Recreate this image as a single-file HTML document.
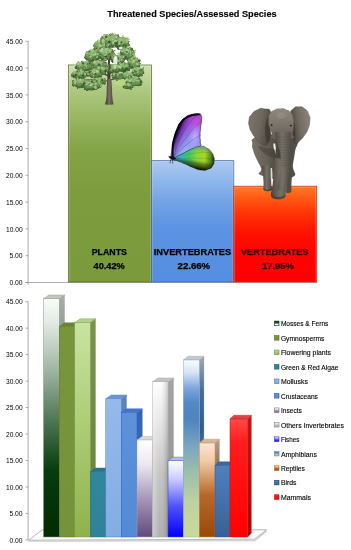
<!DOCTYPE html>
<html><head><meta charset="utf-8"><title>Threatened Species/Assessed Species</title>
<style>html,body{margin:0;padding:0;background:#fff;}body{width:351px;height:550px;overflow:hidden;font-family:"Liberation Sans",sans-serif;}</style>
</head><body>
<svg width="351" height="550" viewBox="0 0 351 550" style="display:block"><defs>
<linearGradient id="gPl" x1="0" y1="0" x2="0" y2="1">
 <stop offset="0" stop-color="#cfe1b2"/><stop offset="0.03" stop-color="#c3d9a0"/><stop offset="0.1" stop-color="#b0cb86"/><stop offset="0.25" stop-color="#96b55e"/><stop offset="0.4" stop-color="#83a346"/><stop offset="0.6" stop-color="#7c9c3e"/><stop offset="1" stop-color="#7a9a3c"/>
</linearGradient>
<linearGradient id="gIn" x1="0" y1="0" x2="0" y2="1">
 <stop offset="0" stop-color="#aecaf1"/><stop offset="0.15" stop-color="#92b8ec"/><stop offset="0.35" stop-color="#71a2e6"/><stop offset="0.55" stop-color="#5c93e2"/><stop offset="1" stop-color="#558de0"/>
</linearGradient>
<linearGradient id="gVe" x1="0" y1="0" x2="0" y2="1">
 <stop offset="0" stop-color="#ff7c2c"/><stop offset="0.12" stop-color="#ff5a14"/><stop offset="0.3" stop-color="#ff3006"/><stop offset="0.5" stop-color="#ff1000"/><stop offset="0.7" stop-color="#ff0300"/><stop offset="1" stop-color="#ff0000"/>
</linearGradient>

<filter id="rough" x="-10%" y="-10%" width="120%" height="120%">
 <feTurbulence type="fractalNoise" baseFrequency="0.35" numOctaves="2" seed="4" result="n"/>
 <feDisplacementMap in="SourceGraphic" in2="n" scale="3.2" xChannelSelector="R" yChannelSelector="G"/>
</filter>
<linearGradient id="trk" x1="0" y1="0" x2="1" y2="0"><stop offset="0" stop-color="#3c342c"/><stop offset="0.5" stop-color="#7a7064"/><stop offset="1" stop-color="#4a4238"/></linearGradient>

<linearGradient id="bu" gradientUnits="userSpaceOnUse" x1="198" y1="113" x2="186" y2="158">
 <stop offset="0" stop-color="#ac3cc4"/><stop offset="0.18" stop-color="#bc50d8"/><stop offset="0.4" stop-color="#9e6ee8"/><stop offset="0.62" stop-color="#9290f0"/><stop offset="0.8" stop-color="#98a6f4"/><stop offset="1" stop-color="#90c0f0"/>
</linearGradient>
<radialGradient id="buh"><stop offset="0" stop-color="#e4e4ff" stop-opacity="0.5"/><stop offset="0.6" stop-color="#d8d8ff" stop-opacity="0.2"/><stop offset="1" stop-color="#d8d8ff" stop-opacity="0"/></radialGradient>
<linearGradient id="bu2" gradientUnits="userSpaceOnUse" x1="175" y1="134" x2="192" y2="141">
 <stop offset="0" stop-color="#1a0a2c"/><stop offset="0.12" stop-color="#2c1048"/><stop offset="0.22" stop-color="#5a1c8c" stop-opacity="0.8"/><stop offset="0.5" stop-color="#8030c0" stop-opacity="0.3"/><stop offset="0.8" stop-color="#8030c0" stop-opacity="0"/>
</linearGradient>
<linearGradient id="bl" gradientUnits="userSpaceOnUse" x1="173" y1="156" x2="214.5" y2="160">
 <stop offset="0" stop-color="#5c94dc"/><stop offset="0.1" stop-color="#4ca8d0"/><stop offset="0.22" stop-color="#38bcb0"/><stop offset="0.38" stop-color="#44c466"/><stop offset="0.58" stop-color="#8ed634"/><stop offset="0.76" stop-color="#a6d628"/><stop offset="0.9" stop-color="#5c8c1c"/><stop offset="1" stop-color="#1c3010"/>
</linearGradient>
<linearGradient id="bl2" gradientUnits="userSpaceOnUse" x1="197" y1="146" x2="193" y2="169.5">
 <stop offset="0" stop-color="#5078c0" stop-opacity="0.55"/><stop offset="0.25" stop-color="#5078c0" stop-opacity="0"/><stop offset="0.58" stop-color="#000" stop-opacity="0"/><stop offset="0.8" stop-color="#142008" stop-opacity="0.62"/><stop offset="0.92" stop-color="#0a1006" stop-opacity="0.92"/><stop offset="1" stop-color="#060804" stop-opacity="0.97"/>
</linearGradient>

<linearGradient id="eEarL" x1="0" y1="0" x2="1" y2="0.3"><stop offset="0" stop-color="#7d776e"/><stop offset="0.6" stop-color="#6c665d"/><stop offset="1" stop-color="#4e4941"/></linearGradient>
<linearGradient id="eEarR" x1="1" y1="0" x2="0" y2="0.3"><stop offset="0" stop-color="#8e887e"/><stop offset="0.6" stop-color="#726c63"/><stop offset="1" stop-color="#4c473f"/></linearGradient>
<linearGradient id="eHead" x1="0" y1="0" x2="0" y2="1"><stop offset="0" stop-color="#8e887e"/><stop offset="0.5" stop-color="#7a746a"/><stop offset="1" stop-color="#5f5a52"/></linearGradient>
<linearGradient id="eBody" x1="0" y1="0" x2="1" y2="0"><stop offset="0" stop-color="#777168"/><stop offset="0.35" stop-color="#655f56"/><stop offset="0.6" stop-color="#47423b"/><stop offset="1" stop-color="#57524a"/></linearGradient>
<linearGradient id="eLeg" x1="0" y1="0" x2="1" y2="0"><stop offset="0" stop-color="#4b463f"/><stop offset="0.45" stop-color="#777167"/><stop offset="1" stop-color="#4d4841"/></linearGradient>
<linearGradient id="eTrunk" x1="0" y1="0" x2="1" y2="0"><stop offset="0" stop-color="#4f4a43"/><stop offset="0.45" stop-color="#777167"/><stop offset="1" stop-color="#524d46"/></linearGradient>
<linearGradient id="f0" x1="0" y1="0" x2="0" y2="1"><stop offset="0" stop-color="#fafcfa"/><stop offset="0.1" stop-color="#e3eae3"/><stop offset="0.3" stop-color="#a0b5a2"/><stop offset="0.5" stop-color="#527a58"/><stop offset="0.72" stop-color="#073c0c"/><stop offset="1" stop-color="#002c00"/></linearGradient><linearGradient id="s0" x1="0" y1="0" x2="0" y2="1"><stop offset="0" stop-color="#a9aea9"/><stop offset="0.4" stop-color="#6b7d6c"/><stop offset="0.8" stop-color="#0a300d"/><stop offset="1" stop-color="#002400"/></linearGradient><linearGradient id="f1" x1="0" y1="0" x2="0" y2="1"><stop offset="0" stop-color="#78953c"/><stop offset="1" stop-color="#76923a"/></linearGradient><linearGradient id="s1" x1="0" y1="0" x2="0" y2="1"><stop offset="0" stop-color="#5d7530"/><stop offset="1" stop-color="#5d7530"/></linearGradient><linearGradient id="f2" x1="0" y1="0" x2="0" y2="1"><stop offset="0" stop-color="#c9e3a2"/><stop offset="0.5" stop-color="#abcc74"/><stop offset="1" stop-color="#8fb24c"/></linearGradient><linearGradient id="s2" x1="0" y1="0" x2="0" y2="1"><stop offset="0" stop-color="#7a9450"/><stop offset="1" stop-color="#66803a"/></linearGradient><linearGradient id="f3" x1="0" y1="0" x2="0" y2="1"><stop offset="0" stop-color="#32869c"/><stop offset="1" stop-color="#2f8298"/></linearGradient><linearGradient id="s3" x1="0" y1="0" x2="0" y2="1"><stop offset="0" stop-color="#256a7c"/><stop offset="1" stop-color="#256a7c"/></linearGradient><linearGradient id="f4" x1="0" y1="0" x2="0" y2="1"><stop offset="0" stop-color="#94baea"/><stop offset="1" stop-color="#82aee4"/></linearGradient><linearGradient id="s4" x1="0" y1="0" x2="0" y2="1"><stop offset="0" stop-color="#5d82b6"/><stop offset="1" stop-color="#587cb0"/></linearGradient><linearGradient id="f5" x1="0" y1="0" x2="0" y2="1"><stop offset="0" stop-color="#5b92da"/><stop offset="1" stop-color="#528ad6"/></linearGradient><linearGradient id="s5" x1="0" y1="0" x2="0" y2="1"><stop offset="0" stop-color="#3866ae"/><stop offset="1" stop-color="#3866ae"/></linearGradient><linearGradient id="f6" x1="0" y1="0" x2="0" y2="1"><stop offset="0" stop-color="#ffffff"/><stop offset="0.25" stop-color="#ece8f0"/><stop offset="0.6" stop-color="#a898b8"/><stop offset="1" stop-color="#604a7c"/></linearGradient><linearGradient id="s6" x1="0" y1="0" x2="0" y2="1"><stop offset="0" stop-color="#b0b0b0"/><stop offset="1" stop-color="#54446a"/></linearGradient><linearGradient id="f7" x1="0" y1="0" x2="0" y2="1"><stop offset="0" stop-color="#ffffff"/><stop offset="0.2" stop-color="#ececec"/><stop offset="0.6" stop-color="#c4c4c4"/><stop offset="1" stop-color="#b0b0b0"/></linearGradient><linearGradient id="s7" x1="0" y1="0" x2="0" y2="1"><stop offset="0" stop-color="#a4a4a4"/><stop offset="1" stop-color="#8c8c8c"/></linearGradient><linearGradient id="f8" x1="0" y1="0" x2="0" y2="1"><stop offset="0" stop-color="#ffffff"/><stop offset="0.25" stop-color="#c8c8ff"/><stop offset="0.6" stop-color="#5050ff"/><stop offset="1" stop-color="#0000f8"/></linearGradient><linearGradient id="s8" x1="0" y1="0" x2="0" y2="1"><stop offset="0" stop-color="#9a9ab0"/><stop offset="1" stop-color="#0000b0"/></linearGradient><linearGradient id="f9" x1="0" y1="0" x2="0" y2="1"><stop offset="0" stop-color="#fbfdff"/><stop offset="0.07" stop-color="#d6e4f6"/><stop offset="0.16" stop-color="#7ca6dc"/><stop offset="0.24" stop-color="#5488c6"/><stop offset="0.34" stop-color="#5084be"/><stop offset="0.48" stop-color="#78a4c0"/><stop offset="0.62" stop-color="#9abcac"/><stop offset="0.8" stop-color="#bcd2a0"/><stop offset="1" stop-color="#c8da9c"/></linearGradient><linearGradient id="s9" x1="0" y1="0" x2="0" y2="1"><stop offset="0" stop-color="#a8a8a8"/><stop offset="0.2" stop-color="#46689a"/><stop offset="0.4" stop-color="#345c8c"/><stop offset="0.6" stop-color="#5c7c84"/><stop offset="1" stop-color="#8c9c6c"/></linearGradient><linearGradient id="f10" x1="0" y1="0" x2="0" y2="1"><stop offset="0" stop-color="#fde6d2"/><stop offset="0.2" stop-color="#f0c8a4"/><stop offset="0.55" stop-color="#b8682c"/><stop offset="1" stop-color="#984807"/></linearGradient><linearGradient id="s10" x1="0" y1="0" x2="0" y2="1"><stop offset="0" stop-color="#a8a4a0"/><stop offset="0.5" stop-color="#7c4c24"/><stop offset="1" stop-color="#6c3404"/></linearGradient><linearGradient id="f11" x1="0" y1="0" x2="0" y2="1"><stop offset="0" stop-color="#4f80bc"/><stop offset="0.5" stop-color="#4272ac"/><stop offset="1" stop-color="#376092"/></linearGradient><linearGradient id="s11" x1="0" y1="0" x2="0" y2="1"><stop offset="0" stop-color="#2f5484"/><stop offset="1" stop-color="#284a74"/></linearGradient><linearGradient id="f12" x1="0" y1="0" x2="0" y2="1"><stop offset="0" stop-color="#ff4848"/><stop offset="0.2" stop-color="#ff1c1c"/><stop offset="1" stop-color="#ff0000"/></linearGradient><linearGradient id="s12" x1="0" y1="0" x2="0" y2="1"><stop offset="0" stop-color="#c01818"/><stop offset="1" stop-color="#a80808"/></linearGradient><linearGradient id="hz" x1="0" y1="0" x2="1" y2="0"><stop offset="0" stop-color="#fff" stop-opacity="0.35"/><stop offset="0.45" stop-color="#fff" stop-opacity="0"/><stop offset="1" stop-color="#000" stop-opacity="0.22"/></linearGradient><linearGradient id="f0r" x1="0" y1="0" x2="0" y2="1"><stop offset="0" stop-color="#0a3a0e"/><stop offset="0.45" stop-color="#1c4c22"/><stop offset="0.6" stop-color="#e8eee8"/><stop offset="1" stop-color="#ffffff"/></linearGradient></defs><g stroke="#909090" stroke-width="0.75" fill="none">
<path d="M28.1 41.000000000000014V285.0"/>
<path d="M25.6 282.5H317.2"/>
<path d="M25.6 282.50H28.1"/>
<path d="M25.6 255.70H28.1"/>
<path d="M25.6 228.90H28.1"/>
<path d="M25.6 202.10H28.1"/>
<path d="M25.6 175.30H28.1"/>
<path d="M25.6 148.50H28.1"/>
<path d="M25.6 121.70H28.1"/>
<path d="M25.6 94.90H28.1"/>
<path d="M25.6 68.10H28.1"/>
<path d="M25.6 41.30H28.1"/>
</g>
<text x="22.6" y="285.10" text-anchor="end" font-size="6.5" textLength="13.2" lengthAdjust="spacingAndGlyphs" fill="#000" font-family="Liberation Sans, sans-serif">0.00</text>
<text x="22.6" y="258.30" text-anchor="end" font-size="6.5" textLength="13.2" lengthAdjust="spacingAndGlyphs" fill="#000" font-family="Liberation Sans, sans-serif">5.00</text>
<text x="22.6" y="231.50" text-anchor="end" font-size="6.5" textLength="16.6" lengthAdjust="spacingAndGlyphs" fill="#000" font-family="Liberation Sans, sans-serif">10.00</text>
<text x="22.6" y="204.70" text-anchor="end" font-size="6.5" textLength="16.6" lengthAdjust="spacingAndGlyphs" fill="#000" font-family="Liberation Sans, sans-serif">15.00</text>
<text x="22.6" y="177.90" text-anchor="end" font-size="6.5" textLength="16.6" lengthAdjust="spacingAndGlyphs" fill="#000" font-family="Liberation Sans, sans-serif">20.00</text>
<text x="22.6" y="151.10" text-anchor="end" font-size="6.5" textLength="16.6" lengthAdjust="spacingAndGlyphs" fill="#000" font-family="Liberation Sans, sans-serif">25.00</text>
<text x="22.6" y="124.30" text-anchor="end" font-size="6.5" textLength="16.6" lengthAdjust="spacingAndGlyphs" fill="#000" font-family="Liberation Sans, sans-serif">30.00</text>
<text x="22.6" y="97.50" text-anchor="end" font-size="6.5" textLength="16.6" lengthAdjust="spacingAndGlyphs" fill="#000" font-family="Liberation Sans, sans-serif">35.00</text>
<text x="22.6" y="70.70" text-anchor="end" font-size="6.5" textLength="16.6" lengthAdjust="spacingAndGlyphs" fill="#000" font-family="Liberation Sans, sans-serif">40.00</text>
<text x="22.6" y="43.90" text-anchor="end" font-size="6.5" textLength="16.6" lengthAdjust="spacingAndGlyphs" fill="#000" font-family="Liberation Sans, sans-serif">45.00</text>
<rect x="68.4" y="65.00" width="83.10" height="217.00" fill="url(#gPl)" stroke="#506a2a" stroke-width="0.75"/>
<path d="M69.2 282.0 V65.90 H150.70 V282" fill="none" stroke="#fff" stroke-opacity="0.35" stroke-width="0.6"/>
<rect x="151.5" y="160.70" width="82.30" height="121.30" fill="url(#gIn)" stroke="#45628f" stroke-width="0.75"/>
<path d="M152.3 282.0 V161.60 H233.00 V282" fill="none" stroke="#fff" stroke-opacity="0.35" stroke-width="0.6"/>
<rect x="233.8" y="186.20" width="82.90" height="95.80" fill="url(#gVe)" stroke="#c8300c" stroke-width="0.75"/>
<path d="M234.60000000000002 282.0 V187.10 H315.90 V282" fill="none" stroke="#fff" stroke-opacity="0.35" stroke-width="0.6"/>
<g fill="none" stroke="#453c32" stroke-linecap="round">
<path d="M109.3 90 C109 82 108.8 76 108.8 70" stroke-width="3"/>
<path d="M108.4 76 C104 73 100 71.5 95 70.5" stroke-width="1.3"/>
<path d="M108.8 75 C114 70 119 65 123 59" stroke-width="1.4"/>
<path d="M108.6 70 C108 62 109 54 111 46" stroke-width="1.3"/>
<path d="M108.6 68 C104 62 100 57 96 52" stroke-width="1.0"/>
<path d="M110 80 C118 78 126 76 134 75" stroke-width="1.0"/>
<path d="M107.8 81 C100 80 92 79.5 84 80" stroke-width="0.9"/>
</g>
<path d="M105 104.2 C106.4 100.6 106.8 95 106.7 88 L107.2 79 L111.4 79 L112 88 C112 95 112.4 100.6 113.6 104.2 C111 104.9 107.4 104.9 105 104.2Z" fill="url(#trk)"/>
<g filter="url(#rough)">
<ellipse cx="111" cy="40.9" rx="10.5" ry="7" fill="#48683a"/>
<ellipse cx="122.5" cy="43.9" rx="7.5" ry="6.5" fill="#48683a"/>
<ellipse cx="100.5" cy="46.9" rx="7.5" ry="6" fill="#48683a"/>
<ellipse cx="92.5" cy="56.4" rx="8" ry="6" fill="#48683a"/>
<ellipse cx="106" cy="54.4" rx="9" ry="6.5" fill="#48683a"/>
<ellipse cx="127.5" cy="53.4" rx="7.5" ry="6.5" fill="#48683a"/>
<ellipse cx="118" cy="59.4" rx="7" ry="5" fill="#48683a"/>
<ellipse cx="84" cy="66.9" rx="9.5" ry="4.6" fill="#48683a"/>
<ellipse cx="99" cy="65.4" rx="8" ry="4.6" fill="#48683a"/>
<ellipse cx="134.3" cy="63.4" rx="7" ry="6" fill="#48683a"/>
<ellipse cx="124" cy="67.9" rx="7" ry="4.5" fill="#48683a"/>
<ellipse cx="79.5" cy="75.4" rx="8.5" ry="4.2" fill="#48683a"/>
<ellipse cx="95" cy="74.4" rx="8" ry="4" fill="#48683a"/>
<ellipse cx="138" cy="72.4" rx="6.3" ry="5" fill="#48683a"/>
<ellipse cx="127" cy="76.4" rx="6" ry="3.6" fill="#48683a"/>
<ellipse cx="79" cy="84.0" rx="7.5" ry="4.2" fill="#48683a"/>
<ellipse cx="91" cy="86.0" rx="9.5" ry="4.6" fill="#48683a"/>
<ellipse cx="101" cy="81.4" rx="5" ry="3.2" fill="#48683a"/>
<ellipse cx="134" cy="82.60000000000001" rx="8.5" ry="4.6" fill="#48683a"/>
<ellipse cx="128" cy="87.0" rx="5.5" ry="2.2" fill="#48683a"/>
<ellipse cx="114" cy="69.4" rx="6.5" ry="4.5" fill="#48683a"/>
<ellipse cx="117.5" cy="76.9" rx="6" ry="2.8" fill="#48683a"/>
<ellipse cx="103" cy="70.9" rx="5" ry="3.5" fill="#48683a"/>
<ellipse cx="111" cy="39.5" rx="10.0" ry="6.0" fill="#6a9150"/>
<ellipse cx="122.5" cy="42.5" rx="7.1" ry="5.5" fill="#6a9150"/>
<ellipse cx="100.5" cy="45.5" rx="7.1" ry="5.1" fill="#6a9150"/>
<ellipse cx="92.5" cy="55" rx="7.6" ry="5.1" fill="#6a9150"/>
<ellipse cx="106" cy="53" rx="8.5" ry="5.5" fill="#6a9150"/>
<ellipse cx="127.5" cy="52" rx="7.1" ry="5.5" fill="#6a9150"/>
<ellipse cx="118" cy="58" rx="6.6" ry="4.2" fill="#6a9150"/>
<ellipse cx="84" cy="65.5" rx="9.0" ry="3.9" fill="#6a9150"/>
<ellipse cx="99" cy="64" rx="7.6" ry="3.9" fill="#6a9150"/>
<ellipse cx="134.3" cy="62" rx="6.6" ry="5.1" fill="#6a9150"/>
<ellipse cx="124" cy="66.5" rx="6.6" ry="3.8" fill="#6a9150"/>
<ellipse cx="79.5" cy="74" rx="8.1" ry="3.6" fill="#6a9150"/>
<ellipse cx="95" cy="73" rx="7.6" ry="3.4" fill="#6a9150"/>
<ellipse cx="138" cy="71" rx="6.0" ry="4.2" fill="#6a9150"/>
<ellipse cx="127" cy="75" rx="5.7" ry="3.1" fill="#6a9150"/>
<ellipse cx="79" cy="82.6" rx="7.1" ry="3.6" fill="#6a9150"/>
<ellipse cx="91" cy="84.6" rx="9.0" ry="3.9" fill="#6a9150"/>
<ellipse cx="101" cy="80" rx="4.8" ry="2.7" fill="#6a9150"/>
<ellipse cx="134" cy="81.2" rx="8.1" ry="3.9" fill="#6a9150"/>
<ellipse cx="128" cy="85.6" rx="5.2" ry="1.9" fill="#6a9150"/>
<ellipse cx="114" cy="68" rx="6.2" ry="3.8" fill="#6a9150"/>
<ellipse cx="117.5" cy="75.5" rx="5.7" ry="2.4" fill="#6a9150"/>
<ellipse cx="103" cy="69.5" rx="4.8" ry="3.0" fill="#6a9150"/>
<ellipse cx="110.2" cy="37.4" rx="7.3" ry="3.5" fill="#8eb472"/>
<ellipse cx="121.7" cy="40.5" rx="5.2" ry="3.2" fill="#8eb472"/>
<ellipse cx="99.7" cy="43.7" rx="5.2" ry="3.0" fill="#8eb472"/>
<ellipse cx="91.7" cy="53.2" rx="5.6" ry="3.0" fill="#8eb472"/>
<ellipse cx="105.2" cy="51.0" rx="6.3" ry="3.2" fill="#8eb472"/>
<ellipse cx="126.7" cy="50.0" rx="5.2" ry="3.2" fill="#8eb472"/>
<ellipse cx="117.2" cy="56.5" rx="4.9" ry="2.5" fill="#8eb472"/>
<ellipse cx="83.2" cy="64.1" rx="6.6" ry="2.3" fill="#8eb472"/>
<ellipse cx="98.2" cy="62.6" rx="5.6" ry="2.3" fill="#8eb472"/>
<ellipse cx="133.5" cy="60.2" rx="4.9" ry="3.0" fill="#8eb472"/>
<ellipse cx="123.2" cy="65.2" rx="4.9" ry="2.2" fill="#8eb472"/>
<ellipse cx="78.7" cy="72.7" rx="5.9" ry="2.1" fill="#8eb472"/>
<ellipse cx="94.2" cy="71.8" rx="5.6" ry="2.0" fill="#8eb472"/>
<ellipse cx="137.2" cy="69.5" rx="4.4" ry="2.5" fill="#8eb472"/>
<ellipse cx="126.2" cy="73.9" rx="4.2" ry="1.8" fill="#8eb472"/>
<ellipse cx="78.2" cy="81.3" rx="5.2" ry="2.1" fill="#8eb472"/>
<ellipse cx="90.2" cy="83.2" rx="6.6" ry="2.3" fill="#8eb472"/>
<ellipse cx="100.2" cy="79.0" rx="3.5" ry="1.6" fill="#8eb472"/>
<ellipse cx="133.2" cy="79.8" rx="5.9" ry="2.3" fill="#8eb472"/>
<ellipse cx="127.2" cy="84.9" rx="3.8" ry="1.1" fill="#8eb472"/>
<ellipse cx="113.2" cy="66.7" rx="4.5" ry="2.2" fill="#8eb472"/>
<ellipse cx="116.7" cy="74.7" rx="4.2" ry="1.4" fill="#8eb472"/>
<ellipse cx="102.2" cy="68.5" rx="3.5" ry="1.8" fill="#8eb472"/>
</g>
<circle cx="109.2" cy="41.9" r="1.2" fill="#3c582e" opacity="0.8"/>
<circle cx="117.7" cy="42.5" r="0.5" fill="#3c582e" opacity="0.8"/>
<circle cx="108.5" cy="40.2" r="0.5" fill="#a6c68a" opacity="0.8"/>
<circle cx="101.6" cy="36.8" r="1.0" fill="#b0ce96" opacity="0.8"/>
<circle cx="102.7" cy="43.7" r="0.7" fill="#9ec082" opacity="0.8"/>
<circle cx="113.2" cy="41.4" r="0.6" fill="#9ec082" opacity="0.8"/>
<circle cx="106.9" cy="38.2" r="1.0" fill="#b0ce96" opacity="0.8"/>
<circle cx="105.6" cy="36.1" r="0.9" fill="#c0daa8" opacity="0.8"/>
<circle cx="116.6" cy="37.6" r="1.1" fill="#9ec082" opacity="0.8"/>
<circle cx="111.3" cy="44.8" r="1.1" fill="#4e703c" opacity="0.8"/>
<circle cx="108.5" cy="46.2" r="0.6" fill="#4e703c" opacity="0.8"/>
<circle cx="105.5" cy="45.2" r="0.6" fill="#344e28" opacity="0.8"/>
<circle cx="102.3" cy="37.3" r="1.1" fill="#4e703c" opacity="0.8"/>
<circle cx="104.4" cy="36.5" r="1.3" fill="#b0ce96" opacity="0.8"/>
<circle cx="102.6" cy="40.4" r="1.0" fill="#c0daa8" opacity="0.8"/>
<circle cx="120.5" cy="39.2" r="1.2" fill="#a6c68a" opacity="0.8"/>
<circle cx="105.2" cy="45.1" r="0.6" fill="#344e28" opacity="0.8"/>
<circle cx="119.6" cy="41.7" r="0.8" fill="#9ec082" opacity="0.8"/>
<circle cx="117.4" cy="37.0" r="0.9" fill="#a6c68a" opacity="0.8"/>
<circle cx="118.1" cy="35.3" r="1.1" fill="#4e703c" opacity="0.8"/>
<circle cx="119.6" cy="39.0" r="0.6" fill="#9ec082" opacity="0.8"/>
<circle cx="113.3" cy="42.5" r="1.2" fill="#a6c68a" opacity="0.8"/>
<circle cx="113.3" cy="42.9" r="1.0" fill="#c0daa8" opacity="0.8"/>
<circle cx="109.4" cy="41.8" r="1.0" fill="#344e28" opacity="0.8"/>
<circle cx="110.5" cy="34.8" r="1.1" fill="#344e28" opacity="0.8"/>
<circle cx="105.8" cy="42.3" r="0.5" fill="#a6c68a" opacity="0.8"/>
<circle cx="115.4" cy="40.8" r="1.0" fill="#c0daa8" opacity="0.8"/>
<circle cx="117.3" cy="42.7" r="1.0" fill="#4e703c" opacity="0.8"/>
<circle cx="115.3" cy="40.9" r="1.3" fill="#c0daa8" opacity="0.8"/>
<circle cx="105.2" cy="36.6" r="1.3" fill="#a6c68a" opacity="0.8"/>
<circle cx="103.9" cy="40.5" r="1.1" fill="#b0ce96" opacity="0.8"/>
<circle cx="110.6" cy="34.7" r="0.7" fill="#b0ce96" opacity="0.8"/>
<circle cx="117.0" cy="38.2" r="1.1" fill="#3c582e" opacity="0.8"/>
<circle cx="108.5" cy="44.9" r="0.9" fill="#c0daa8" opacity="0.8"/>
<circle cx="116.3" cy="37.2" r="1.0" fill="#c0daa8" opacity="0.8"/>
<circle cx="103.9" cy="35.4" r="1.1" fill="#9ec082" opacity="0.8"/>
<circle cx="114.8" cy="34.0" r="0.8" fill="#a6c68a" opacity="0.8"/>
<circle cx="112.7" cy="39.7" r="0.7" fill="#c0daa8" opacity="0.8"/>
<circle cx="106.1" cy="37.0" r="1.3" fill="#344e28" opacity="0.8"/>
<circle cx="117.1" cy="38.3" r="0.9" fill="#9ec082" opacity="0.8"/>
<circle cx="119.8" cy="46.3" r="1.2" fill="#344e28" opacity="0.8"/>
<circle cx="116.5" cy="43.2" r="1.2" fill="#3c582e" opacity="0.8"/>
<circle cx="125.9" cy="45.3" r="0.9" fill="#3c582e" opacity="0.8"/>
<circle cx="125.4" cy="47.7" r="0.8" fill="#344e28" opacity="0.8"/>
<circle cx="116.6" cy="46.2" r="1.3" fill="#3c582e" opacity="0.8"/>
<circle cx="128.2" cy="43.4" r="0.6" fill="#344e28" opacity="0.8"/>
<circle cx="125.9" cy="36.8" r="0.6" fill="#c0daa8" opacity="0.8"/>
<circle cx="121.5" cy="42.2" r="1.0" fill="#344e28" opacity="0.8"/>
<circle cx="115.4" cy="41.5" r="1.2" fill="#9ec082" opacity="0.8"/>
<circle cx="123.4" cy="45.7" r="1.1" fill="#3c582e" opacity="0.8"/>
<circle cx="120.0" cy="46.8" r="1.2" fill="#3c582e" opacity="0.8"/>
<circle cx="119.4" cy="46.0" r="0.8" fill="#344e28" opacity="0.8"/>
<circle cx="127.1" cy="40.2" r="1.2" fill="#b0ce96" opacity="0.8"/>
<circle cx="123.5" cy="37.5" r="0.6" fill="#9ec082" opacity="0.8"/>
<circle cx="116.2" cy="43.4" r="1.0" fill="#4e703c" opacity="0.8"/>
<circle cx="117.4" cy="41.6" r="0.5" fill="#344e28" opacity="0.8"/>
<circle cx="123.1" cy="43.7" r="0.9" fill="#a6c68a" opacity="0.8"/>
<circle cx="122.9" cy="36.3" r="1.1" fill="#9ec082" opacity="0.8"/>
<circle cx="117.3" cy="43.9" r="1.1" fill="#3c582e" opacity="0.8"/>
<circle cx="127.7" cy="38.1" r="1.2" fill="#9ec082" opacity="0.8"/>
<circle cx="124.2" cy="44.2" r="1.0" fill="#3c582e" opacity="0.8"/>
<circle cx="119.4" cy="43.8" r="1.2" fill="#b0ce96" opacity="0.8"/>
<circle cx="126.1" cy="47.0" r="0.7" fill="#3c582e" opacity="0.8"/>
<circle cx="125.8" cy="45.9" r="0.8" fill="#3c582e" opacity="0.8"/>
<circle cx="115.1" cy="43.0" r="1.1" fill="#3c582e" opacity="0.8"/>
<circle cx="127.3" cy="42.3" r="0.8" fill="#c0daa8" opacity="0.8"/>
<circle cx="100.3" cy="44.7" r="1.1" fill="#a6c68a" opacity="0.8"/>
<circle cx="96.5" cy="48.4" r="0.6" fill="#3c582e" opacity="0.8"/>
<circle cx="103.6" cy="44.1" r="0.7" fill="#3c582e" opacity="0.8"/>
<circle cx="106.9" cy="46.8" r="1.2" fill="#9ec082" opacity="0.8"/>
<circle cx="104.1" cy="41.5" r="0.6" fill="#4e703c" opacity="0.8"/>
<circle cx="105.5" cy="43.3" r="0.7" fill="#3c582e" opacity="0.8"/>
<circle cx="101.5" cy="43.1" r="1.3" fill="#4e703c" opacity="0.8"/>
<circle cx="96.0" cy="41.5" r="0.6" fill="#9ec082" opacity="0.8"/>
<circle cx="103.8" cy="42.4" r="1.2" fill="#a6c68a" opacity="0.8"/>
<circle cx="100.2" cy="47.6" r="1.3" fill="#3c582e" opacity="0.8"/>
<circle cx="104.3" cy="44.9" r="1.0" fill="#c0daa8" opacity="0.8"/>
<circle cx="97.2" cy="45.0" r="0.7" fill="#9ec082" opacity="0.8"/>
<circle cx="103.0" cy="39.9" r="1.1" fill="#b0ce96" opacity="0.8"/>
<circle cx="97.4" cy="44.7" r="0.6" fill="#a6c68a" opacity="0.8"/>
<circle cx="102.6" cy="41.9" r="1.3" fill="#a6c68a" opacity="0.8"/>
<circle cx="99.3" cy="48.1" r="1.2" fill="#9ec082" opacity="0.8"/>
<circle cx="98.9" cy="40.9" r="1.3" fill="#c0daa8" opacity="0.8"/>
<circle cx="101.0" cy="44.9" r="0.8" fill="#4e703c" opacity="0.8"/>
<circle cx="106.3" cy="47.2" r="1.0" fill="#344e28" opacity="0.8"/>
<circle cx="99.8" cy="48.4" r="0.6" fill="#4e703c" opacity="0.8"/>
<circle cx="100.4" cy="45.9" r="1.3" fill="#c0daa8" opacity="0.8"/>
<circle cx="97.0" cy="44.6" r="0.7" fill="#4e703c" opacity="0.8"/>
<circle cx="102.3" cy="48.7" r="0.9" fill="#c0daa8" opacity="0.8"/>
<circle cx="102.1" cy="49.6" r="1.2" fill="#c0daa8" opacity="0.8"/>
<circle cx="96.3" cy="58.6" r="0.7" fill="#4e703c" opacity="0.8"/>
<circle cx="93.2" cy="59.6" r="1.0" fill="#3c582e" opacity="0.8"/>
<circle cx="90.9" cy="49.5" r="1.1" fill="#c0daa8" opacity="0.8"/>
<circle cx="88.2" cy="55.1" r="0.5" fill="#3c582e" opacity="0.8"/>
<circle cx="96.4" cy="50.1" r="1.2" fill="#9ec082" opacity="0.8"/>
<circle cx="92.6" cy="50.5" r="1.2" fill="#b0ce96" opacity="0.8"/>
<circle cx="86.0" cy="52.1" r="0.6" fill="#9ec082" opacity="0.8"/>
<circle cx="98.7" cy="56.2" r="1.2" fill="#4e703c" opacity="0.8"/>
<circle cx="86.6" cy="53.3" r="0.9" fill="#9ec082" opacity="0.8"/>
<circle cx="99.6" cy="55.1" r="1.2" fill="#344e28" opacity="0.8"/>
<circle cx="97.4" cy="57.4" r="0.7" fill="#4e703c" opacity="0.8"/>
<circle cx="96.2" cy="56.4" r="0.7" fill="#3c582e" opacity="0.8"/>
<circle cx="89.3" cy="51.7" r="0.9" fill="#3c582e" opacity="0.8"/>
<circle cx="89.7" cy="50.2" r="0.6" fill="#9ec082" opacity="0.8"/>
<circle cx="94.9" cy="57.4" r="1.0" fill="#4e703c" opacity="0.8"/>
<circle cx="96.2" cy="58.1" r="0.6" fill="#344e28" opacity="0.8"/>
<circle cx="93.6" cy="59.1" r="0.9" fill="#4e703c" opacity="0.8"/>
<circle cx="89.8" cy="55.4" r="0.7" fill="#3c582e" opacity="0.8"/>
<circle cx="97.2" cy="57.1" r="1.2" fill="#b0ce96" opacity="0.8"/>
<circle cx="97.8" cy="54.2" r="1.2" fill="#9ec082" opacity="0.8"/>
<circle cx="94.5" cy="54.3" r="1.3" fill="#c0daa8" opacity="0.8"/>
<circle cx="97.4" cy="59.0" r="1.1" fill="#3c582e" opacity="0.8"/>
<circle cx="93.4" cy="60.6" r="0.6" fill="#3c582e" opacity="0.8"/>
<circle cx="98.8" cy="53.5" r="0.8" fill="#9ec082" opacity="0.8"/>
<circle cx="90.5" cy="56.5" r="1.1" fill="#c0daa8" opacity="0.8"/>
<circle cx="94.0" cy="53.2" r="0.5" fill="#344e28" opacity="0.8"/>
<circle cx="105.7" cy="49.7" r="1.3" fill="#a6c68a" opacity="0.8"/>
<circle cx="101.4" cy="50.9" r="1.2" fill="#c0daa8" opacity="0.8"/>
<circle cx="105.6" cy="54.4" r="1.2" fill="#344e28" opacity="0.8"/>
<circle cx="106.0" cy="56.4" r="1.1" fill="#3c582e" opacity="0.8"/>
<circle cx="107.3" cy="48.9" r="1.2" fill="#a6c68a" opacity="0.8"/>
<circle cx="112.2" cy="51.2" r="1.2" fill="#3c582e" opacity="0.8"/>
<circle cx="100.0" cy="55.7" r="0.9" fill="#c0daa8" opacity="0.8"/>
<circle cx="111.7" cy="50.5" r="0.8" fill="#a6c68a" opacity="0.8"/>
<circle cx="103.7" cy="58.3" r="0.8" fill="#4e703c" opacity="0.8"/>
<circle cx="106.4" cy="57.5" r="0.6" fill="#3c582e" opacity="0.8"/>
<circle cx="108.2" cy="55.5" r="0.9" fill="#4e703c" opacity="0.8"/>
<circle cx="101.0" cy="54.1" r="0.6" fill="#4e703c" opacity="0.8"/>
<circle cx="107.0" cy="54.8" r="0.8" fill="#b0ce96" opacity="0.8"/>
<circle cx="100.5" cy="57.3" r="1.1" fill="#3c582e" opacity="0.8"/>
<circle cx="101.1" cy="55.2" r="0.7" fill="#4e703c" opacity="0.8"/>
<circle cx="106.1" cy="48.4" r="0.6" fill="#c0daa8" opacity="0.8"/>
<circle cx="98.9" cy="52.9" r="0.6" fill="#3c582e" opacity="0.8"/>
<circle cx="110.4" cy="50.6" r="1.3" fill="#a6c68a" opacity="0.8"/>
<circle cx="110.9" cy="48.1" r="0.8" fill="#b0ce96" opacity="0.8"/>
<circle cx="106.7" cy="47.2" r="0.5" fill="#4e703c" opacity="0.8"/>
<circle cx="99.3" cy="56.9" r="1.3" fill="#4e703c" opacity="0.8"/>
<circle cx="106.0" cy="55.1" r="1.3" fill="#b0ce96" opacity="0.8"/>
<circle cx="104.7" cy="47.9" r="0.6" fill="#a6c68a" opacity="0.8"/>
<circle cx="106.1" cy="52.8" r="1.0" fill="#b0ce96" opacity="0.8"/>
<circle cx="104.9" cy="55.2" r="1.1" fill="#a6c68a" opacity="0.8"/>
<circle cx="107.8" cy="54.1" r="0.7" fill="#344e28" opacity="0.8"/>
<circle cx="105.5" cy="58.8" r="1.3" fill="#c0daa8" opacity="0.8"/>
<circle cx="105.1" cy="56.6" r="0.9" fill="#3c582e" opacity="0.8"/>
<circle cx="106.4" cy="56.2" r="1.0" fill="#344e28" opacity="0.8"/>
<circle cx="109.7" cy="54.0" r="0.8" fill="#344e28" opacity="0.8"/>
<circle cx="105.7" cy="58.3" r="0.9" fill="#3c582e" opacity="0.8"/>
<circle cx="103.5" cy="47.8" r="0.7" fill="#a6c68a" opacity="0.8"/>
<circle cx="129.4" cy="46.7" r="0.9" fill="#9ec082" opacity="0.8"/>
<circle cx="129.5" cy="57.4" r="0.7" fill="#4e703c" opacity="0.8"/>
<circle cx="127.8" cy="48.5" r="1.0" fill="#4e703c" opacity="0.8"/>
<circle cx="131.7" cy="49.3" r="1.3" fill="#3c582e" opacity="0.8"/>
<circle cx="130.4" cy="55.2" r="0.8" fill="#9ec082" opacity="0.8"/>
<circle cx="126.7" cy="49.3" r="1.1" fill="#c0daa8" opacity="0.8"/>
<circle cx="134.7" cy="51.9" r="1.0" fill="#9ec082" opacity="0.8"/>
<circle cx="122.4" cy="51.3" r="1.2" fill="#a6c68a" opacity="0.8"/>
<circle cx="132.5" cy="51.6" r="0.7" fill="#b0ce96" opacity="0.8"/>
<circle cx="123.1" cy="57.1" r="0.8" fill="#9ec082" opacity="0.8"/>
<circle cx="128.0" cy="48.4" r="0.5" fill="#3c582e" opacity="0.8"/>
<circle cx="123.0" cy="52.7" r="0.8" fill="#3c582e" opacity="0.8"/>
<circle cx="127.1" cy="47.5" r="1.1" fill="#9ec082" opacity="0.8"/>
<circle cx="127.7" cy="50.7" r="1.1" fill="#b0ce96" opacity="0.8"/>
<circle cx="130.6" cy="53.1" r="0.8" fill="#c0daa8" opacity="0.8"/>
<circle cx="123.8" cy="57.5" r="1.2" fill="#c0daa8" opacity="0.8"/>
<circle cx="125.6" cy="57.3" r="1.3" fill="#344e28" opacity="0.8"/>
<circle cx="133.8" cy="54.4" r="1.3" fill="#a6c68a" opacity="0.8"/>
<circle cx="124.7" cy="54.1" r="0.6" fill="#4e703c" opacity="0.8"/>
<circle cx="126.8" cy="52.0" r="1.2" fill="#4e703c" opacity="0.8"/>
<circle cx="128.3" cy="47.0" r="0.9" fill="#c0daa8" opacity="0.8"/>
<circle cx="128.7" cy="47.1" r="1.1" fill="#a6c68a" opacity="0.8"/>
<circle cx="127.5" cy="53.7" r="0.6" fill="#c0daa8" opacity="0.8"/>
<circle cx="125.3" cy="52.9" r="0.7" fill="#b0ce96" opacity="0.8"/>
<circle cx="120.9" cy="55.1" r="0.7" fill="#3c582e" opacity="0.8"/>
<circle cx="122.4" cy="54.6" r="0.9" fill="#344e28" opacity="0.8"/>
<circle cx="118.9" cy="53.7" r="0.7" fill="#c0daa8" opacity="0.8"/>
<circle cx="114.1" cy="56.8" r="0.9" fill="#3c582e" opacity="0.8"/>
<circle cx="119.3" cy="60.2" r="0.8" fill="#9ec082" opacity="0.8"/>
<circle cx="112.5" cy="61.0" r="1.0" fill="#3c582e" opacity="0.8"/>
<circle cx="121.8" cy="60.0" r="0.9" fill="#b0ce96" opacity="0.8"/>
<circle cx="120.7" cy="53.8" r="1.2" fill="#3c582e" opacity="0.8"/>
<circle cx="118.2" cy="59.1" r="0.7" fill="#344e28" opacity="0.8"/>
<circle cx="122.5" cy="59.6" r="1.1" fill="#c0daa8" opacity="0.8"/>
<circle cx="117.7" cy="57.7" r="1.0" fill="#344e28" opacity="0.8"/>
<circle cx="118.9" cy="61.0" r="1.3" fill="#9ec082" opacity="0.8"/>
<circle cx="123.8" cy="59.0" r="1.2" fill="#3c582e" opacity="0.8"/>
<circle cx="114.4" cy="59.6" r="0.7" fill="#3c582e" opacity="0.8"/>
<circle cx="119.5" cy="54.4" r="1.1" fill="#b0ce96" opacity="0.8"/>
<circle cx="116.6" cy="56.3" r="0.8" fill="#9ec082" opacity="0.8"/>
<circle cx="117.1" cy="62.9" r="1.3" fill="#4e703c" opacity="0.8"/>
<circle cx="116.0" cy="61.5" r="0.5" fill="#4e703c" opacity="0.8"/>
<circle cx="118.7" cy="53.5" r="1.1" fill="#a6c68a" opacity="0.8"/>
<circle cx="118.2" cy="58.4" r="0.6" fill="#4e703c" opacity="0.8"/>
<circle cx="122.5" cy="60.0" r="0.6" fill="#3c582e" opacity="0.8"/>
<circle cx="87.4" cy="66.1" r="0.6" fill="#4e703c" opacity="0.8"/>
<circle cx="79.8" cy="63.6" r="0.8" fill="#9ec082" opacity="0.8"/>
<circle cx="86.1" cy="67.1" r="0.9" fill="#a6c68a" opacity="0.8"/>
<circle cx="87.2" cy="61.2" r="1.2" fill="#9ec082" opacity="0.8"/>
<circle cx="92.7" cy="66.7" r="0.6" fill="#a6c68a" opacity="0.8"/>
<circle cx="82.2" cy="61.8" r="1.1" fill="#344e28" opacity="0.8"/>
<circle cx="85.1" cy="68.4" r="0.6" fill="#4e703c" opacity="0.8"/>
<circle cx="85.2" cy="68.4" r="0.8" fill="#4e703c" opacity="0.8"/>
<circle cx="89.5" cy="69.2" r="0.5" fill="#3c582e" opacity="0.8"/>
<circle cx="76.4" cy="64.0" r="0.6" fill="#c0daa8" opacity="0.8"/>
<circle cx="78.3" cy="63.5" r="1.0" fill="#c0daa8" opacity="0.8"/>
<circle cx="82.3" cy="67.6" r="0.9" fill="#4e703c" opacity="0.8"/>
<circle cx="82.7" cy="65.8" r="0.9" fill="#4e703c" opacity="0.8"/>
<circle cx="76.9" cy="66.7" r="1.1" fill="#3c582e" opacity="0.8"/>
<circle cx="82.0" cy="66.2" r="0.6" fill="#c0daa8" opacity="0.8"/>
<circle cx="77.7" cy="66.7" r="0.6" fill="#9ec082" opacity="0.8"/>
<circle cx="83.1" cy="61.5" r="1.1" fill="#b0ce96" opacity="0.8"/>
<circle cx="90.1" cy="63.2" r="1.2" fill="#3c582e" opacity="0.8"/>
<circle cx="92.1" cy="65.4" r="0.6" fill="#3c582e" opacity="0.8"/>
<circle cx="87.8" cy="63.9" r="1.0" fill="#3c582e" opacity="0.8"/>
<circle cx="83.2" cy="63.4" r="1.1" fill="#344e28" opacity="0.8"/>
<circle cx="88.9" cy="69.2" r="0.6" fill="#4e703c" opacity="0.8"/>
<circle cx="74.9" cy="65.4" r="1.0" fill="#c0daa8" opacity="0.8"/>
<circle cx="84.5" cy="68.3" r="0.6" fill="#a6c68a" opacity="0.8"/>
<circle cx="105.1" cy="62.5" r="1.1" fill="#3c582e" opacity="0.8"/>
<circle cx="98.4" cy="68.0" r="1.3" fill="#c0daa8" opacity="0.8"/>
<circle cx="93.5" cy="65.0" r="0.7" fill="#3c582e" opacity="0.8"/>
<circle cx="91.8" cy="63.1" r="0.7" fill="#4e703c" opacity="0.8"/>
<circle cx="105.1" cy="63.8" r="0.9" fill="#b0ce96" opacity="0.8"/>
<circle cx="102.1" cy="67.6" r="0.7" fill="#c0daa8" opacity="0.8"/>
<circle cx="106.3" cy="63.1" r="1.1" fill="#4e703c" opacity="0.8"/>
<circle cx="98.9" cy="61.8" r="0.8" fill="#a6c68a" opacity="0.8"/>
<circle cx="97.9" cy="64.8" r="1.0" fill="#344e28" opacity="0.8"/>
<circle cx="99.4" cy="64.0" r="0.9" fill="#b0ce96" opacity="0.8"/>
<circle cx="94.0" cy="63.4" r="0.7" fill="#9ec082" opacity="0.8"/>
<circle cx="95.1" cy="61.8" r="1.1" fill="#9ec082" opacity="0.8"/>
<circle cx="97.1" cy="64.4" r="0.8" fill="#c0daa8" opacity="0.8"/>
<circle cx="98.9" cy="64.5" r="1.2" fill="#344e28" opacity="0.8"/>
<circle cx="94.0" cy="62.0" r="0.7" fill="#a6c68a" opacity="0.8"/>
<circle cx="100.4" cy="63.5" r="0.6" fill="#a6c68a" opacity="0.8"/>
<circle cx="103.1" cy="67.7" r="0.6" fill="#9ec082" opacity="0.8"/>
<circle cx="100.9" cy="67.4" r="0.8" fill="#344e28" opacity="0.8"/>
<circle cx="94.7" cy="61.9" r="1.3" fill="#b0ce96" opacity="0.8"/>
<circle cx="98.1" cy="60.9" r="1.2" fill="#a6c68a" opacity="0.8"/>
<circle cx="134.2" cy="57.9" r="0.6" fill="#a6c68a" opacity="0.8"/>
<circle cx="137.9" cy="61.9" r="0.8" fill="#3c582e" opacity="0.8"/>
<circle cx="134.3" cy="57.0" r="0.7" fill="#b0ce96" opacity="0.8"/>
<circle cx="129.9" cy="60.7" r="1.3" fill="#344e28" opacity="0.8"/>
<circle cx="132.4" cy="67.5" r="1.2" fill="#3c582e" opacity="0.8"/>
<circle cx="137.9" cy="62.3" r="1.3" fill="#9ec082" opacity="0.8"/>
<circle cx="134.2" cy="58.6" r="1.0" fill="#4e703c" opacity="0.8"/>
<circle cx="129.6" cy="65.8" r="1.2" fill="#344e28" opacity="0.8"/>
<circle cx="129.6" cy="61.1" r="1.2" fill="#b0ce96" opacity="0.8"/>
<circle cx="128.8" cy="64.0" r="1.1" fill="#4e703c" opacity="0.8"/>
<circle cx="130.1" cy="64.9" r="0.6" fill="#3c582e" opacity="0.8"/>
<circle cx="136.6" cy="62.3" r="1.3" fill="#4e703c" opacity="0.8"/>
<circle cx="133.9" cy="61.0" r="1.1" fill="#b0ce96" opacity="0.8"/>
<circle cx="134.2" cy="60.5" r="0.7" fill="#c0daa8" opacity="0.8"/>
<circle cx="139.2" cy="60.8" r="1.3" fill="#344e28" opacity="0.8"/>
<circle cx="136.8" cy="63.7" r="1.3" fill="#b0ce96" opacity="0.8"/>
<circle cx="139.5" cy="59.2" r="0.9" fill="#c0daa8" opacity="0.8"/>
<circle cx="138.5" cy="66.0" r="0.8" fill="#4e703c" opacity="0.8"/>
<circle cx="133.4" cy="62.4" r="0.5" fill="#c0daa8" opacity="0.8"/>
<circle cx="134.7" cy="56.3" r="1.2" fill="#a6c68a" opacity="0.8"/>
<circle cx="133.4" cy="61.3" r="0.9" fill="#a6c68a" opacity="0.8"/>
<circle cx="138.2" cy="64.4" r="1.1" fill="#9ec082" opacity="0.8"/>
<circle cx="136.8" cy="58.0" r="0.5" fill="#a6c68a" opacity="0.8"/>
<circle cx="125.8" cy="70.3" r="0.8" fill="#3c582e" opacity="0.8"/>
<circle cx="128.8" cy="68.6" r="1.0" fill="#4e703c" opacity="0.8"/>
<circle cx="128.8" cy="65.6" r="0.7" fill="#9ec082" opacity="0.8"/>
<circle cx="125.3" cy="70.2" r="1.3" fill="#3c582e" opacity="0.8"/>
<circle cx="124.5" cy="63.4" r="1.1" fill="#344e28" opacity="0.8"/>
<circle cx="121.1" cy="64.6" r="1.2" fill="#a6c68a" opacity="0.8"/>
<circle cx="123.9" cy="63.6" r="0.7" fill="#c0daa8" opacity="0.8"/>
<circle cx="123.4" cy="70.8" r="1.3" fill="#4e703c" opacity="0.8"/>
<circle cx="119.4" cy="63.3" r="0.8" fill="#b0ce96" opacity="0.8"/>
<circle cx="122.7" cy="68.1" r="0.9" fill="#344e28" opacity="0.8"/>
<circle cx="121.9" cy="69.2" r="1.0" fill="#4e703c" opacity="0.8"/>
<circle cx="127.3" cy="68.7" r="0.9" fill="#3c582e" opacity="0.8"/>
<circle cx="123.3" cy="70.4" r="0.6" fill="#344e28" opacity="0.8"/>
<circle cx="125.9" cy="68.4" r="0.8" fill="#344e28" opacity="0.8"/>
<circle cx="124.6" cy="70.9" r="1.3" fill="#344e28" opacity="0.8"/>
<circle cx="126.9" cy="69.6" r="1.3" fill="#3c582e" opacity="0.8"/>
<circle cx="125.7" cy="62.8" r="0.6" fill="#9ec082" opacity="0.8"/>
<circle cx="83.3" cy="72.8" r="0.5" fill="#4e703c" opacity="0.8"/>
<circle cx="73.4" cy="76.2" r="1.3" fill="#344e28" opacity="0.8"/>
<circle cx="79.1" cy="74.6" r="0.5" fill="#a6c68a" opacity="0.8"/>
<circle cx="79.9" cy="77.9" r="1.1" fill="#344e28" opacity="0.8"/>
<circle cx="75.9" cy="75.0" r="1.1" fill="#344e28" opacity="0.8"/>
<circle cx="83.7" cy="71.2" r="0.8" fill="#a6c68a" opacity="0.8"/>
<circle cx="79.1" cy="77.5" r="1.1" fill="#3c582e" opacity="0.8"/>
<circle cx="78.0" cy="70.8" r="0.9" fill="#a6c68a" opacity="0.8"/>
<circle cx="87.3" cy="74.5" r="1.2" fill="#344e28" opacity="0.8"/>
<circle cx="82.3" cy="77.1" r="1.2" fill="#4e703c" opacity="0.8"/>
<circle cx="81.8" cy="73.3" r="0.6" fill="#9ec082" opacity="0.8"/>
<circle cx="81.1" cy="70.0" r="1.2" fill="#b0ce96" opacity="0.8"/>
<circle cx="75.8" cy="74.5" r="1.0" fill="#3c582e" opacity="0.8"/>
<circle cx="82.4" cy="71.3" r="0.7" fill="#a6c68a" opacity="0.8"/>
<circle cx="77.4" cy="71.6" r="1.1" fill="#3c582e" opacity="0.8"/>
<circle cx="74.4" cy="71.8" r="0.8" fill="#a6c68a" opacity="0.8"/>
<circle cx="85.0" cy="74.2" r="1.0" fill="#c0daa8" opacity="0.8"/>
<circle cx="83.1" cy="75.5" r="1.3" fill="#344e28" opacity="0.8"/>
<circle cx="87.8" cy="73.9" r="0.6" fill="#9ec082" opacity="0.8"/>
<circle cx="96.2" cy="69.5" r="1.0" fill="#a6c68a" opacity="0.8"/>
<circle cx="93.7" cy="69.5" r="0.9" fill="#a6c68a" opacity="0.8"/>
<circle cx="93.4" cy="75.8" r="0.8" fill="#a6c68a" opacity="0.8"/>
<circle cx="97.4" cy="71.3" r="1.3" fill="#c0daa8" opacity="0.8"/>
<circle cx="92.6" cy="70.5" r="0.8" fill="#4e703c" opacity="0.8"/>
<circle cx="92.4" cy="71.1" r="1.0" fill="#b0ce96" opacity="0.8"/>
<circle cx="90.0" cy="75.9" r="0.6" fill="#3c582e" opacity="0.8"/>
<circle cx="90.8" cy="72.1" r="1.2" fill="#344e28" opacity="0.8"/>
<circle cx="94.3" cy="72.6" r="1.0" fill="#b0ce96" opacity="0.8"/>
<circle cx="95.0" cy="74.3" r="0.6" fill="#9ec082" opacity="0.8"/>
<circle cx="88.2" cy="74.1" r="1.1" fill="#a6c68a" opacity="0.8"/>
<circle cx="98.7" cy="76.3" r="1.0" fill="#3c582e" opacity="0.8"/>
<circle cx="100.6" cy="70.8" r="0.9" fill="#3c582e" opacity="0.8"/>
<circle cx="95.5" cy="74.1" r="1.2" fill="#344e28" opacity="0.8"/>
<circle cx="91.1" cy="72.3" r="0.9" fill="#9ec082" opacity="0.8"/>
<circle cx="89.8" cy="72.0" r="0.9" fill="#344e28" opacity="0.8"/>
<circle cx="89.1" cy="73.0" r="0.6" fill="#3c582e" opacity="0.8"/>
<circle cx="135.7" cy="74.8" r="1.2" fill="#4e703c" opacity="0.8"/>
<circle cx="135.1" cy="73.3" r="0.6" fill="#3c582e" opacity="0.8"/>
<circle cx="134.8" cy="74.1" r="1.0" fill="#b0ce96" opacity="0.8"/>
<circle cx="141.3" cy="69.8" r="0.9" fill="#344e28" opacity="0.8"/>
<circle cx="138.1" cy="69.1" r="1.0" fill="#a6c68a" opacity="0.8"/>
<circle cx="134.9" cy="74.9" r="1.1" fill="#4e703c" opacity="0.8"/>
<circle cx="132.3" cy="69.4" r="0.8" fill="#c0daa8" opacity="0.8"/>
<circle cx="132.6" cy="69.5" r="0.8" fill="#a6c68a" opacity="0.8"/>
<circle cx="134.7" cy="70.9" r="1.0" fill="#3c582e" opacity="0.8"/>
<circle cx="138.9" cy="68.2" r="0.6" fill="#c0daa8" opacity="0.8"/>
<circle cx="139.8" cy="70.7" r="1.1" fill="#4e703c" opacity="0.8"/>
<circle cx="141.5" cy="68.6" r="0.6" fill="#c0daa8" opacity="0.8"/>
<circle cx="143.5" cy="72.3" r="0.5" fill="#344e28" opacity="0.8"/>
<circle cx="133.4" cy="71.0" r="1.0" fill="#9ec082" opacity="0.8"/>
<circle cx="136.4" cy="67.4" r="0.5" fill="#9ec082" opacity="0.8"/>
<circle cx="134.7" cy="68.1" r="1.2" fill="#9ec082" opacity="0.8"/>
<circle cx="136.2" cy="71.8" r="0.8" fill="#3c582e" opacity="0.8"/>
<circle cx="129.3" cy="72.1" r="1.2" fill="#c0daa8" opacity="0.8"/>
<circle cx="127.4" cy="75.6" r="0.9" fill="#b0ce96" opacity="0.8"/>
<circle cx="121.6" cy="74.5" r="1.0" fill="#4e703c" opacity="0.8"/>
<circle cx="130.5" cy="73.8" r="1.0" fill="#a6c68a" opacity="0.8"/>
<circle cx="131.9" cy="74.9" r="0.9" fill="#a6c68a" opacity="0.8"/>
<circle cx="130.6" cy="76.2" r="0.5" fill="#344e28" opacity="0.8"/>
<circle cx="132.0" cy="75.1" r="0.7" fill="#b0ce96" opacity="0.8"/>
<circle cx="130.0" cy="76.7" r="0.9" fill="#9ec082" opacity="0.8"/>
<circle cx="126.8" cy="71.5" r="1.1" fill="#9ec082" opacity="0.8"/>
<circle cx="131.1" cy="76.4" r="1.0" fill="#4e703c" opacity="0.8"/>
<circle cx="131.4" cy="72.8" r="0.5" fill="#b0ce96" opacity="0.8"/>
<circle cx="85.0" cy="82.9" r="0.8" fill="#3c582e" opacity="0.8"/>
<circle cx="76.8" cy="85.6" r="1.0" fill="#4e703c" opacity="0.8"/>
<circle cx="76.0" cy="86.3" r="1.0" fill="#4e703c" opacity="0.8"/>
<circle cx="83.1" cy="85.6" r="0.6" fill="#344e28" opacity="0.8"/>
<circle cx="80.7" cy="79.9" r="1.3" fill="#a6c68a" opacity="0.8"/>
<circle cx="80.2" cy="79.5" r="1.0" fill="#b0ce96" opacity="0.8"/>
<circle cx="75.1" cy="79.5" r="1.2" fill="#b0ce96" opacity="0.8"/>
<circle cx="75.6" cy="81.2" r="0.8" fill="#9ec082" opacity="0.8"/>
<circle cx="76.7" cy="79.6" r="0.7" fill="#4e703c" opacity="0.8"/>
<circle cx="82.8" cy="82.6" r="0.7" fill="#b0ce96" opacity="0.8"/>
<circle cx="83.5" cy="85.7" r="0.7" fill="#3c582e" opacity="0.8"/>
<circle cx="83.0" cy="79.6" r="0.8" fill="#a6c68a" opacity="0.8"/>
<circle cx="83.8" cy="84.2" r="1.1" fill="#3c582e" opacity="0.8"/>
<circle cx="77.7" cy="78.5" r="1.0" fill="#b0ce96" opacity="0.8"/>
<circle cx="75.7" cy="83.0" r="1.1" fill="#b0ce96" opacity="0.8"/>
<circle cx="76.8" cy="82.9" r="0.7" fill="#3c582e" opacity="0.8"/>
<circle cx="72.8" cy="80.7" r="0.8" fill="#344e28" opacity="0.8"/>
<circle cx="86.7" cy="84.5" r="0.6" fill="#b0ce96" opacity="0.8"/>
<circle cx="89.3" cy="82.0" r="1.1" fill="#a6c68a" opacity="0.8"/>
<circle cx="93.9" cy="82.8" r="0.8" fill="#4e703c" opacity="0.8"/>
<circle cx="96.9" cy="86.9" r="0.8" fill="#3c582e" opacity="0.8"/>
<circle cx="95.9" cy="85.1" r="0.5" fill="#3c582e" opacity="0.8"/>
<circle cx="99.8" cy="84.3" r="0.7" fill="#9ec082" opacity="0.8"/>
<circle cx="92.1" cy="81.6" r="1.2" fill="#344e28" opacity="0.8"/>
<circle cx="95.7" cy="84.1" r="1.3" fill="#9ec082" opacity="0.8"/>
<circle cx="89.9" cy="85.1" r="1.2" fill="#c0daa8" opacity="0.8"/>
<circle cx="82.1" cy="85.8" r="1.2" fill="#3c582e" opacity="0.8"/>
<circle cx="85.2" cy="81.2" r="0.7" fill="#b0ce96" opacity="0.8"/>
<circle cx="84.0" cy="83.1" r="0.9" fill="#344e28" opacity="0.8"/>
<circle cx="94.6" cy="88.5" r="1.3" fill="#3c582e" opacity="0.8"/>
<circle cx="91.3" cy="85.5" r="0.5" fill="#c0daa8" opacity="0.8"/>
<circle cx="89.5" cy="84.4" r="1.1" fill="#4e703c" opacity="0.8"/>
<circle cx="89.1" cy="81.0" r="0.6" fill="#3c582e" opacity="0.8"/>
<circle cx="90.7" cy="84.9" r="1.0" fill="#c0daa8" opacity="0.8"/>
<circle cx="83.8" cy="85.9" r="0.7" fill="#4e703c" opacity="0.8"/>
<circle cx="95.7" cy="86.8" r="1.1" fill="#9ec082" opacity="0.8"/>
<circle cx="98.7" cy="82.4" r="1.1" fill="#9ec082" opacity="0.8"/>
<circle cx="95.8" cy="88.1" r="1.2" fill="#c0daa8" opacity="0.8"/>
<circle cx="95.1" cy="87.0" r="1.2" fill="#a6c68a" opacity="0.8"/>
<circle cx="86.6" cy="82.4" r="0.9" fill="#9ec082" opacity="0.8"/>
<circle cx="88.5" cy="83.3" r="0.6" fill="#b0ce96" opacity="0.8"/>
<circle cx="96.5" cy="80.9" r="0.7" fill="#3c582e" opacity="0.8"/>
<circle cx="99.3" cy="80.7" r="0.8" fill="#c0daa8" opacity="0.8"/>
<circle cx="102.7" cy="81.9" r="0.6" fill="#4e703c" opacity="0.8"/>
<circle cx="102.2" cy="79.9" r="1.2" fill="#344e28" opacity="0.8"/>
<circle cx="96.8" cy="78.9" r="1.3" fill="#9ec082" opacity="0.8"/>
<circle cx="98.7" cy="80.7" r="0.6" fill="#9ec082" opacity="0.8"/>
<circle cx="99.8" cy="82.9" r="0.6" fill="#c0daa8" opacity="0.8"/>
<circle cx="98.9" cy="78.4" r="0.9" fill="#9ec082" opacity="0.8"/>
<circle cx="136.0" cy="76.9" r="0.8" fill="#c0daa8" opacity="0.8"/>
<circle cx="137.4" cy="80.1" r="1.2" fill="#9ec082" opacity="0.8"/>
<circle cx="130.0" cy="80.9" r="1.2" fill="#b0ce96" opacity="0.8"/>
<circle cx="139.6" cy="78.7" r="0.7" fill="#3c582e" opacity="0.8"/>
<circle cx="128.6" cy="78.7" r="0.7" fill="#344e28" opacity="0.8"/>
<circle cx="141.1" cy="81.4" r="1.2" fill="#344e28" opacity="0.8"/>
<circle cx="129.0" cy="80.9" r="0.6" fill="#a6c68a" opacity="0.8"/>
<circle cx="127.7" cy="83.4" r="0.7" fill="#c0daa8" opacity="0.8"/>
<circle cx="126.2" cy="79.4" r="1.0" fill="#c0daa8" opacity="0.8"/>
<circle cx="137.2" cy="79.1" r="0.6" fill="#344e28" opacity="0.8"/>
<circle cx="131.4" cy="83.0" r="1.1" fill="#4e703c" opacity="0.8"/>
<circle cx="138.4" cy="78.6" r="1.2" fill="#4e703c" opacity="0.8"/>
<circle cx="139.7" cy="80.3" r="0.5" fill="#9ec082" opacity="0.8"/>
<circle cx="137.9" cy="80.8" r="0.7" fill="#b0ce96" opacity="0.8"/>
<circle cx="126.2" cy="79.7" r="0.7" fill="#9ec082" opacity="0.8"/>
<circle cx="137.5" cy="78.1" r="1.1" fill="#9ec082" opacity="0.8"/>
<circle cx="140.3" cy="83.8" r="0.7" fill="#3c582e" opacity="0.8"/>
<circle cx="127.7" cy="82.0" r="0.6" fill="#3c582e" opacity="0.8"/>
<circle cx="131.4" cy="82.2" r="0.6" fill="#3c582e" opacity="0.8"/>
<circle cx="127.4" cy="79.4" r="1.3" fill="#b0ce96" opacity="0.8"/>
<circle cx="129.8" cy="83.1" r="0.5" fill="#344e28" opacity="0.8"/>
<circle cx="129.2" cy="85.5" r="0.7" fill="#a6c68a" opacity="0.8"/>
<circle cx="126.2" cy="86.8" r="1.2" fill="#4e703c" opacity="0.8"/>
<circle cx="128.7" cy="85.2" r="0.7" fill="#c0daa8" opacity="0.8"/>
<circle cx="124.1" cy="86.4" r="0.6" fill="#344e28" opacity="0.8"/>
<circle cx="126.9" cy="86.5" r="0.6" fill="#3c582e" opacity="0.8"/>
<circle cx="132.8" cy="85.2" r="0.5" fill="#344e28" opacity="0.8"/>
<circle cx="120.4" cy="67.4" r="1.2" fill="#c0daa8" opacity="0.8"/>
<circle cx="110.3" cy="65.5" r="1.0" fill="#3c582e" opacity="0.8"/>
<circle cx="114.0" cy="71.2" r="0.7" fill="#3c582e" opacity="0.8"/>
<circle cx="112.2" cy="71.4" r="0.6" fill="#c0daa8" opacity="0.8"/>
<circle cx="108.7" cy="65.7" r="1.2" fill="#9ec082" opacity="0.8"/>
<circle cx="118.3" cy="66.3" r="1.1" fill="#b0ce96" opacity="0.8"/>
<circle cx="113.0" cy="71.0" r="1.0" fill="#3c582e" opacity="0.8"/>
<circle cx="115.7" cy="71.6" r="0.7" fill="#344e28" opacity="0.8"/>
<circle cx="108.2" cy="68.6" r="0.7" fill="#c0daa8" opacity="0.8"/>
<circle cx="110.0" cy="67.8" r="1.2" fill="#3c582e" opacity="0.8"/>
<circle cx="117.3" cy="71.7" r="0.9" fill="#4e703c" opacity="0.8"/>
<circle cx="112.6" cy="72.4" r="0.6" fill="#3c582e" opacity="0.8"/>
<circle cx="119.5" cy="69.7" r="0.9" fill="#3c582e" opacity="0.8"/>
<circle cx="116.0" cy="65.7" r="0.7" fill="#344e28" opacity="0.8"/>
<circle cx="119.4" cy="67.0" r="1.0" fill="#c0daa8" opacity="0.8"/>
<circle cx="115.9" cy="69.6" r="1.2" fill="#4e703c" opacity="0.8"/>
<circle cx="112.4" cy="75.2" r="0.7" fill="#4e703c" opacity="0.8"/>
<circle cx="114.2" cy="73.9" r="1.2" fill="#a6c68a" opacity="0.8"/>
<circle cx="122.7" cy="75.6" r="0.8" fill="#4e703c" opacity="0.8"/>
<circle cx="119.8" cy="75.5" r="1.2" fill="#4e703c" opacity="0.8"/>
<circle cx="114.6" cy="74.4" r="0.7" fill="#a6c68a" opacity="0.8"/>
<circle cx="115.4" cy="76.8" r="0.8" fill="#344e28" opacity="0.8"/>
<circle cx="115.2" cy="77.7" r="0.8" fill="#4e703c" opacity="0.8"/>
<circle cx="116.1" cy="77.5" r="1.0" fill="#4e703c" opacity="0.8"/>
<circle cx="115.9" cy="75.1" r="1.3" fill="#4e703c" opacity="0.8"/>
<circle cx="101.1" cy="68.4" r="1.2" fill="#a6c68a" opacity="0.8"/>
<circle cx="103.8" cy="69.3" r="0.7" fill="#a6c68a" opacity="0.8"/>
<circle cx="100.3" cy="69.1" r="0.9" fill="#4e703c" opacity="0.8"/>
<circle cx="98.9" cy="69.2" r="0.5" fill="#c0daa8" opacity="0.8"/>
<circle cx="101.5" cy="67.4" r="0.9" fill="#b0ce96" opacity="0.8"/>
<circle cx="105.5" cy="70.7" r="1.2" fill="#344e28" opacity="0.8"/>
<circle cx="104.2" cy="70.8" r="0.9" fill="#4e703c" opacity="0.8"/>
<circle cx="99.5" cy="67.0" r="0.6" fill="#b0ce96" opacity="0.8"/>
<circle cx="100.9" cy="72.7" r="0.6" fill="#344e28" opacity="0.8"/>
<ellipse cx="119.6" cy="83.2" rx="5.4" ry="2.4" fill="#bcd97c" opacity="0.92"/>
<ellipse cx="120.6" cy="48" rx="1.7" ry="1.5" fill="#f4f8f0" opacity="0.9"/>
<path d="M114.6 56 C116.4 55.4 117.8 57 117.6 60 L117.2 64 L113.4 64 C113 61 113.4 58 114.6 56Z" fill="#f4f8f0" opacity="0.9"/>
<path d="M113.4 64.4 L117.2 64.4 C117 67 116 69 114.6 69.6 C113.6 68 113.4 66 113.4 64.4Z" fill="#c3d9a0" opacity="0.9"/>
<path d="M109 70 C109 64 109.6 60 110.4 56" stroke="#453c32" stroke-width="1.1" fill="none"/>
<path d="M172.8 158.2C169.4 156.3 171.7 155.1 172.0 148.8C172.3 142.5 172.0 145.6 173.6 139.3C175.2 133.0 174.4 135.7 176.8 130.0C179.2 124.3 177.8 126.3 180.7 122.1C183.6 117.9 181.8 119.9 185.4 117.4C189.0 114.9 187.2 115.7 191.6 114.6C196.0 113.5 195.3 113.7 198.5 114.0C201.7 114.3 200.1 113.2 201.1 115.4C202.1 117.6 201.6 116.2 201.4 120.5C201.2 124.8 201.0 123.2 200.5 128.4C200.0 133.6 200.1 131.8 200.0 136.2C199.9 140.6 200.5 138.2 200.3 141.7C200.1 145.2 202.4 144.2 199.5 146.8C196.6 149.4 197.4 147.0 191.6 149.5C185.8 152.0 188.5 151.5 182.2 154.4C175.9 157.3 176.2 160.1 172.8 158.2Z" fill="url(#bu)" stroke="#140820" stroke-width="0.6"/>
<path d="M172.8 158.2C169.4 156.3 171.7 155.1 172.0 148.8C172.3 142.5 172.0 145.6 173.6 139.3C175.2 133.0 174.4 135.7 176.8 130.0C179.2 124.3 177.8 126.3 180.7 122.1C183.6 117.9 181.8 119.9 185.4 117.4C189.0 114.9 187.2 115.7 191.6 114.6C196.0 113.5 195.3 113.7 198.5 114.0C201.7 114.3 200.1 113.2 201.1 115.4C202.1 117.6 201.6 116.2 201.4 120.5C201.2 124.8 201.0 123.2 200.5 128.4C200.0 133.6 200.1 131.8 200.0 136.2C199.9 140.6 200.5 138.2 200.3 141.7C200.1 145.2 202.4 144.2 199.5 146.8C196.6 149.4 197.4 147.0 191.6 149.5C185.8 152.0 188.5 151.5 182.2 154.4C175.9 157.3 176.2 160.1 172.8 158.2Z" fill="url(#bu2)"/>
<ellipse cx="195" cy="136" rx="6.5" ry="12" fill="url(#buh)" transform="rotate(14 195 136)"/>
<path d="M172.9 158 C171.6 147 174 135 179.4 124.5 C183.4 117.6 190.6 114.4 199 114.2" fill="none" stroke="#08030e" stroke-width="1.9" stroke-linecap="round" opacity="0.92"/>
<g stroke="#2c1450" stroke-width="0.4" fill="none" opacity="0.55"><path d="M173.5 157 C178 140 186 124 197 115"/><path d="M173.5 157 C182 142 192 128 201.5 121"/><path d="M173.5 157 C184 146 194 138 201 135"/></g>
<path d="M172.8 158.4C175.7 156.4 175.9 156.9 182.2 153.8C188.5 150.7 185.6 151.6 191.6 149.1C197.6 146.6 195.3 146.8 200.3 146.4C205.3 146.0 202.9 146.2 206.5 148.0C210.1 149.8 208.8 149.0 211.2 151.9C213.6 154.8 212.6 153.6 213.6 156.6C214.6 159.6 214.4 157.9 214.1 160.8C213.8 163.7 214.6 162.7 212.8 165.4C211.0 168.1 212.5 167.5 208.6 169.0C204.7 170.5 206.1 170.5 201.0 170.0C195.9 169.5 198.4 169.6 193.2 167.6C188.0 165.6 190.4 166.1 185.4 164.0C180.4 161.9 182.2 162.6 178.3 161.2C174.4 159.8 175.4 160.6 173.6 159.7C171.8 158.8 169.9 160.4 172.8 158.4Z" fill="url(#bl)" stroke="#101c08" stroke-width="0.5"/>
<path d="M172.8 158.4C175.7 156.4 175.9 156.9 182.2 153.8C188.5 150.7 185.6 151.6 191.6 149.1C197.6 146.6 195.3 146.8 200.3 146.4C205.3 146.0 202.9 146.2 206.5 148.0C210.1 149.8 208.8 149.0 211.2 151.9C213.6 154.8 212.6 153.6 213.6 156.6C214.6 159.6 214.4 157.9 214.1 160.8C213.8 163.7 214.6 162.7 212.8 165.4C211.0 168.1 212.5 167.5 208.6 169.0C204.7 170.5 206.1 170.5 201.0 170.0C195.9 169.5 198.4 169.6 193.2 167.6C188.0 165.6 190.4 166.1 185.4 164.0C180.4 161.9 182.2 162.6 178.3 161.2C174.4 159.8 175.4 160.6 173.6 159.7C171.8 158.8 169.9 160.4 172.8 158.4Z" fill="url(#bl2)"/>
<g stroke="#0c3020" stroke-width="0.3" fill="none" opacity="0.45"><path d="M173.5 158.6 C186 154 200 151 211 153"/><path d="M173.5 158.8 C188 158 202 158 213.5 159"/><path d="M173.5 159 C186 161.5 198 164 210 165.5"/></g>
<path d="M168.2 156.6 C170.6 155.4 174.2 156.6 176.4 158.8 C173.8 160.4 170.2 159.6 168.2 156.6Z" fill="#100c08"/>
<path d="M171 158.5 L170 163.4 M172.6 159 L172.8 163.6" stroke="#100c08" stroke-width="0.55" fill="none"/>
<path d="M254.0 138.0C249.4 141.0 252.6 140.0 252.3 144.0C252.0 148.0 251.4 144.7 253.0 150.0C254.6 155.3 254.3 154.0 257.0 160.0C259.7 166.0 259.0 162.7 261.0 168.0C263.0 173.3 253.2 172.7 263.0 176.0C272.8 179.3 280.5 182.0 290.5 178.0C300.5 174.0 291.5 172.7 293.0 164.0C294.5 155.3 293.8 159.7 295.0 152.0C296.2 144.3 298.8 146.7 296.5 141.0C294.2 135.3 298.2 137.0 288.0 135.0C277.8 133.0 277.3 134.0 266.0 135.0C254.7 136.0 258.6 135.0 254.0 138.0Z" fill="url(#eBody)"/>
<path d="M286 176 C287 182 286.6 188 286 192.5 C288 193.6 290.4 193.2 291.4 191.6 C291.2 186 291.6 180 292 174Z" fill="#514c44"/>
<path d="M262 166 C263 174 263.8 181 263.6 186.5 C262.6 189.4 264.2 191.2 267.6 191.2 C270.8 191.2 272.6 190 272 187 C271.4 180 271.2 172 271.6 164Z" fill="url(#eLeg)"/><path d="M263.2 188 C264.6 190 270 190.4 272 188 C272.4 190 270.8 191.3 267.6 191.2 C264.4 191.2 262.8 190 263.2 188Z" fill="#3c3832" opacity="0.65"/>
<path d="M275 158 C274.6 168 273.2 180 271.8 190 C269.8 194.6 271.6 198.8 277.6 199.3 C283.4 199.7 286.4 197.4 285.6 193 C287 185 289.4 172 291.5 160Z" fill="url(#eLeg)"/><path d="M271 193.5 C273 197.6 282 198.4 285.4 194.6 C286 197.4 283.4 199.6 277.6 199.3 C272 199 270 196.6 271 193.5Z" fill="#3c3832" opacity="0.7"/>
<path d="M270.6 168 C270.4 174 270.8 180 271.4 186 L272.2 186 C272.6 180 272.6 174 272 168Z" fill="#efe9e2" opacity="0.9"/>
<path d="M271.0 112.5C269.0 107.4 268.7 109.6 264.0 108.8C259.3 108.0 261.2 108.1 257.0 110.0C252.8 111.9 254.2 111.2 251.5 114.5C248.8 117.8 249.7 115.8 249.0 120.0C248.3 124.2 248.4 122.7 249.4 127.0C250.4 131.3 250.0 129.3 252.0 133.0C254.0 136.7 253.2 135.0 255.5 138.0C257.8 141.0 256.2 139.5 259.0 142.0C261.8 144.5 260.8 145.2 264.0 145.5C267.2 145.8 266.3 146.2 268.5 143.0C270.7 139.8 270.0 142.3 270.5 136.0C271.0 129.7 269.8 131.8 270.0 124.0C270.2 116.2 273.0 117.6 271.0 112.5Z" fill="url(#eEarL)" stroke="#49443c" stroke-width="0.4"/>
<path d="M290.5 114.0C291.0 109.3 290.2 111.4 293.0 109.0C295.8 106.6 294.8 106.8 298.8 106.8C302.8 106.8 301.6 106.3 305.0 109.0C308.4 111.7 307.4 111.0 309.0 115.0C310.6 119.0 310.1 116.3 309.8 121.0C309.5 125.7 309.9 124.0 308.0 129.0C306.1 134.0 306.8 132.0 304.0 136.0C301.2 140.0 302.2 138.3 299.5 141.0C296.8 143.7 298.0 144.3 296.0 144.0C294.0 143.7 295.0 143.7 293.5 140.0C292.0 136.3 292.2 138.7 291.5 133.0C290.8 127.3 291.8 129.3 291.5 123.0C291.2 116.7 290.0 118.7 290.5 114.0Z" fill="url(#eEarR)" stroke="#49443c" stroke-width="0.4"/>
<path d="M268.5 116 C264.5 121 264 133 267 143.5 C269.4 141 270.4 138 270.6 134Z" fill="#3a362f" opacity="0.7"/>
<path d="M292.2 118 C295.5 123 296 133 294.8 141.5 C293 139.5 291.9 137 291.6 133Z" fill="#3a362f" opacity="0.65"/>
<path d="M280.8 108.4C276.8 108.6 277.6 108.1 274.0 110.0C270.4 111.9 271.8 110.7 270.0 114.0C268.2 117.3 268.8 115.7 268.6 120.0C268.4 124.3 268.4 122.7 269.4 127.0C270.4 131.3 270.1 129.0 271.6 133.0C273.1 137.0 267.4 137.0 274.0 139.0C280.6 141.0 285.2 141.0 291.4 139.0C297.6 137.0 291.9 137.3 292.6 133.0C293.3 128.7 293.5 131.0 293.6 126.0C293.7 121.0 294.1 122.7 293.0 118.0C291.9 113.3 292.7 114.9 290.4 112.0C288.1 109.1 289.2 110.6 286.0 109.4C282.8 108.2 284.8 108.2 280.8 108.4Z" fill="url(#eHead)"/>
<path d="M275 132 C275.6 138 277.6 146 280 152 C281 158 281.2 164 280.6 170 C279.8 177 277.8 183 277 188 C277 190.6 279.2 191.4 281 190.2 C283.4 188 285.4 180 286.8 172 C288 165 289.2 158 289.8 152 C290.6 146 291 139 291 132Z" fill="url(#eTrunk)"/>
<g stroke="#4c463e" stroke-width="0.35" fill="none" opacity="0.8"><path d="M275.6 136.5 Q283.0 138.0 291.2 136.5"/><path d="M276.0 139.1 Q283.2 140.6 291.1 139.1"/><path d="M276.4 141.7 Q283.3 143.2 291.0 141.7"/><path d="M276.9 144.3 Q283.5 145.8 290.9 144.3"/><path d="M277.3 146.9 Q283.6 148.4 290.8 146.9"/><path d="M277.7 149.5 Q283.8 151.0 290.7 149.5"/><path d="M278.1 152.1 Q284.0 153.6 290.6 152.1"/><path d="M278.5 154.7 Q284.1 156.2 290.5 154.7"/><path d="M279.0 157.3 Q284.3 158.8 290.4 157.3"/><path d="M279.4 159.9 Q284.4 161.4 290.3 159.9"/><path d="M279.8 162.5 Q284.6 164.0 290.2 162.5"/><path d="M280.2 165.1 Q284.8 166.6 290.1 165.1"/></g>
<ellipse cx="271.6" cy="125.1" rx="1" ry="0.8" fill="#1c1812"/><ellipse cx="290.8" cy="125.6" rx="1" ry="0.8" fill="#1c1812"/>
<ellipse cx="281" cy="115.5" rx="4.5" ry="3.2" fill="#a09a90" opacity="0.4"/>
<path d="M273.4 143.6 C273.2 147.5 274.2 151.5 276.2 154.6 C276.4 151 275.6 147 275.2 143.6Z" fill="#f6f2e6"/>
<path d="M258 146 C262 153 268 157 276 158 L278 150 C270 149 263 147 258 146Z" fill="#3e3a33" opacity="0.5"/>
<text x="91.7" y="255.1" font-size="9.3" font-weight="bold" textLength="35.3" lengthAdjust="spacingAndGlyphs" fill="#000" stroke="#000" stroke-width="0.25" font-family="Liberation Sans, sans-serif">PLANTS</text>
<text x="93.6" y="269.2" font-size="8.5" font-weight="bold" textLength="31.1" lengthAdjust="spacingAndGlyphs" fill="#000" stroke="#000" stroke-width="0.25" font-family="Liberation Sans, sans-serif">40.42%</text>
<text x="153.8" y="255.1" font-size="9.3" font-weight="bold" textLength="77.3" lengthAdjust="spacingAndGlyphs" fill="#000" stroke="#000" stroke-width="0.25" font-family="Liberation Sans, sans-serif">INVERTEBRATES</text>
<text x="177.6" y="269.4" font-size="8.5" font-weight="bold" textLength="32.5" lengthAdjust="spacingAndGlyphs" fill="#000" stroke="#000" stroke-width="0.25" font-family="Liberation Sans, sans-serif">22.66%</text>
<text x="241.0" y="255.1" font-size="9.3" font-weight="bold" textLength="67.6" lengthAdjust="spacingAndGlyphs" fill="#300000" stroke="#300000" stroke-width="0.25" font-family="Liberation Sans, sans-serif">VERTEBRATES</text>
<text x="262.0" y="269.2" font-size="8.5" font-weight="bold" textLength="31.7" lengthAdjust="spacingAndGlyphs" fill="#300000" stroke="#300000" stroke-width="0.25" font-family="Liberation Sans, sans-serif">17.95%</text>
<text x="107.3" y="16.6" font-size="9.3" font-weight="bold" stroke="#000" stroke-width="0.12" textLength="169.3" lengthAdjust="spacingAndGlyphs" fill="#000" font-family="Liberation Sans, sans-serif">Threatened Species/Assessed Species</text>
<g stroke="#909090" stroke-width="0.75" fill="none">
<path d="M28.1 301.4V539.9"/>
<path d="M25.6 539.90H28.1"/>
<path d="M25.6 513.43H28.1"/>
<path d="M25.6 486.97H28.1"/>
<path d="M25.6 460.50H28.1"/>
<path d="M25.6 434.03H28.1"/>
<path d="M25.6 407.57H28.1"/>
<path d="M25.6 381.10H28.1"/>
<path d="M25.6 354.63H28.1"/>
<path d="M25.6 328.17H28.1"/>
<path d="M25.6 301.70H28.1"/>
</g>
<text x="22.6" y="542.50" text-anchor="end" font-size="6.5" textLength="13.2" lengthAdjust="spacingAndGlyphs" fill="#000" font-family="Liberation Sans, sans-serif">0.00</text>
<text x="22.6" y="516.03" text-anchor="end" font-size="6.5" textLength="13.2" lengthAdjust="spacingAndGlyphs" fill="#000" font-family="Liberation Sans, sans-serif">5.00</text>
<text x="22.6" y="489.57" text-anchor="end" font-size="6.5" textLength="16.6" lengthAdjust="spacingAndGlyphs" fill="#000" font-family="Liberation Sans, sans-serif">10.00</text>
<text x="22.6" y="463.10" text-anchor="end" font-size="6.5" textLength="16.6" lengthAdjust="spacingAndGlyphs" fill="#000" font-family="Liberation Sans, sans-serif">15.00</text>
<text x="22.6" y="436.63" text-anchor="end" font-size="6.5" textLength="16.6" lengthAdjust="spacingAndGlyphs" fill="#000" font-family="Liberation Sans, sans-serif">20.00</text>
<text x="22.6" y="410.17" text-anchor="end" font-size="6.5" textLength="16.6" lengthAdjust="spacingAndGlyphs" fill="#000" font-family="Liberation Sans, sans-serif">25.00</text>
<text x="22.6" y="383.70" text-anchor="end" font-size="6.5" textLength="16.6" lengthAdjust="spacingAndGlyphs" fill="#000" font-family="Liberation Sans, sans-serif">30.00</text>
<text x="22.6" y="357.23" text-anchor="end" font-size="6.5" textLength="16.6" lengthAdjust="spacingAndGlyphs" fill="#000" font-family="Liberation Sans, sans-serif">35.00</text>
<text x="22.6" y="330.77" text-anchor="end" font-size="6.5" textLength="16.6" lengthAdjust="spacingAndGlyphs" fill="#000" font-family="Liberation Sans, sans-serif">40.00</text>
<text x="22.6" y="304.30" text-anchor="end" font-size="6.5" textLength="16.6" lengthAdjust="spacingAndGlyphs" fill="#000" font-family="Liberation Sans, sans-serif">45.00</text>
<path d="M28.5 540.2 L42.5 529.8 L266.5 529.8 L254.5 539.2 Z" fill="#fdfdfd" stroke="#9a9a9a" stroke-width="0.7"/>
<path d="M28.5 541.2 L254.8 540.6 L266.5 531" fill="none" stroke="#c8c8c8" stroke-width="1.2"/>
<path d="M59.25 298.75 L64.55 295.0 L64.55 533.25 L59.25 537.0 Z" fill="url(#s0)" stroke="#8a9484" stroke-width="0.3"/>
<path d="M43.5 298.75 L48.80 295.0 L64.55 295.0 L59.25 298.75 Z" fill="#c2c6c0" stroke="#8a9484" stroke-width="0.4"/>
<rect x="43.5" y="298.75" width="15.75" height="238.25" fill="url(#f0)" stroke="#8a9484" stroke-width="0.5"/>
<path d="M74.75 326.5 L80.05 322.75 L80.05 533.25 L74.75 537.0 Z" fill="url(#s1)" stroke="#5e7a2c" stroke-width="0.3"/>
<path d="M59.25 326.5 L64.55 322.75 L80.05 322.75 L74.75 326.5 Z" fill="#688532" stroke="#5e7a2c" stroke-width="0.4"/>
<rect x="59.25" y="326.5" width="15.5" height="210.5" fill="url(#f1)" stroke="#5e7a2c" stroke-width="0.5"/>
<path d="M90.25 322.5 L95.55 318.75 L95.55 533.25 L90.25 537.0 Z" fill="url(#s2)" stroke="#7c9c48" stroke-width="0.3"/>
<path d="M74.75 322.5 L80.05 318.75 L95.55 318.75 L90.25 322.5 Z" fill="#b4d088" stroke="#7c9c48" stroke-width="0.4"/>
<rect x="74.75" y="322.5" width="15.5" height="214.5" fill="url(#f2)" stroke="#7c9c48" stroke-width="0.5"/>
<path d="M105.75 471.75 L111.05 468.0 L111.05 533.25 L105.75 537.0 Z" fill="url(#s3)" stroke="#27707f" stroke-width="0.3"/>
<path d="M90.25 471.75 L95.55 468.0 L111.05 468.0 L105.75 471.75 Z" fill="#2a7488" stroke="#27707f" stroke-width="0.4"/>
<rect x="90.25" y="471.75" width="15.5" height="65.25" fill="url(#f3)" stroke="#27707f" stroke-width="0.5"/>
<path d="M121.25 398.75 L126.55 395.0 L126.55 533.25 L121.25 537.0 Z" fill="url(#s4)" stroke="#4a7cc4" stroke-width="0.3"/>
<path d="M105.75 398.75 L111.05 395.0 L126.55 395.0 L121.25 398.75 Z" fill="#6c98d0" stroke="#4a7cc4" stroke-width="0.4"/>
<rect x="105.75" y="398.75" width="15.5" height="138.25" fill="url(#f4)" stroke="#4a7cc4" stroke-width="0.5"/>
<path d="M137.0 412.5 L142.30 408.75 L142.30 533.25 L137.0 537.0 Z" fill="url(#s5)" stroke="#2a62d8" stroke-width="0.3"/>
<path d="M121.25 412.5 L126.55 408.75 L142.30 408.75 L137.0 412.5 Z" fill="#4676c0" stroke="#2a62d8" stroke-width="0.4"/>
<rect x="121.25" y="412.5" width="15.75" height="124.5" fill="url(#f5)" stroke="#2a62d8" stroke-width="0.5"/>
<path d="M152.5 440.0 L157.80 436.25 L157.80 533.25 L152.5 537.0 Z" fill="url(#s6)" stroke="#b8b0c4" stroke-width="0.3"/>
<path d="M137.0 440.0 L142.30 436.25 L157.80 436.25 L152.5 440.0 Z" fill="#d8d8d8" stroke="#b8b0c4" stroke-width="0.4"/>
<rect x="137.0" y="440.0" width="15.5" height="97.0" fill="url(#f6)" stroke="#b8b0c4" stroke-width="0.5"/>
<path d="M168.25 381.75 L173.55 378.0 L173.55 533.25 L168.25 537.0 Z" fill="url(#s7)" stroke="#a0a0a0" stroke-width="0.3"/>
<path d="M152.5 381.75 L157.80 378.0 L173.55 378.0 L168.25 381.75 Z" fill="#c4c4c4" stroke="#a0a0a0" stroke-width="0.4"/>
<rect x="152.5" y="381.75" width="15.75" height="155.25" fill="url(#f7)" stroke="#a0a0a0" stroke-width="0.5"/>
<path d="M183.25 460.75 L188.29 457.0 L188.29 533.25 L183.25 537.0 Z" fill="url(#s8)" stroke="#4060e0" stroke-width="0.3"/>
<path d="M168.0 460.75 L173.04 457.0 L188.29 457.0 L183.25 460.75 Z" fill="#b4bcd8" stroke="#4060e0" stroke-width="0.4"/>
<rect x="168.0" y="460.75" width="15.25" height="76.25" fill="url(#f8)" stroke="#4060e0" stroke-width="0.5"/>
<path d="M199.25 360.0 L203.98 356.25 L203.98 533.25 L199.25 537.0 Z" fill="url(#s9)" stroke="#8cacd4" stroke-width="0.3"/>
<path d="M183.25 360.0 L187.98 356.25 L203.98 356.25 L199.25 360.0 Z" fill="#c4c8cc" stroke="#8cacd4" stroke-width="0.4"/>
<rect x="183.25" y="360.0" width="16.0" height="177.0" fill="url(#f9)" stroke="#8cacd4" stroke-width="0.5"/>
<path d="M215.0 443.0 L219.42 439.25 L219.42 533.25 L215.0 537.0 Z" fill="url(#s10)" stroke="#e08838" stroke-width="0.3"/>
<path d="M199.25 443.0 L203.67 439.25 L219.42 439.25 L215.0 443.0 Z" fill="#d0b8a4" stroke="#e08838" stroke-width="0.4"/>
<rect x="199.25" y="443.0" width="15.75" height="94.0" fill="url(#f10)" stroke="#e08838" stroke-width="0.5"/>
<path d="M230.0 465.5 L234.13 461.75 L234.13 533.25 L230.0 537.0 Z" fill="url(#s11)" stroke="#30588c" stroke-width="0.3"/>
<path d="M215.0 465.5 L219.13 461.75 L234.13 461.75 L230.0 465.5 Z" fill="#3c68a0" stroke="#30588c" stroke-width="0.4"/>
<rect x="215.0" y="465.5" width="15.0" height="71.5" fill="url(#f11)" stroke="#30588c" stroke-width="0.5"/>
<path d="M247.6 419.0 L251.39 415.25 L251.39 533.25 L247.6 537.0 Z" fill="url(#s12)" stroke="#e01010" stroke-width="0.3"/>
<path d="M230.0 419.0 L233.79 415.25 L251.39 415.25 L247.6 419.0 Z" fill="#d84848" stroke="#e01010" stroke-width="0.4"/>
<rect x="230.0" y="419.0" width="17.599999999999994" height="118.0" fill="url(#f12)" stroke="#e01010" stroke-width="0.5"/>
<rect x="152.5" y="381.75" width="15.75" height="155" fill="url(#hz)"/>
<rect x="274.5" y="321.10" width="4.5" height="4.6" fill="url(#f0r)" stroke="#0c3410" stroke-width="0.6"/>
<text x="280.9" y="326.30" font-size="7.5" textLength="47.5" lengthAdjust="spacingAndGlyphs" fill="#000" stroke="#000" stroke-width="0.12" font-family="Liberation Sans, sans-serif">Mosses &amp; Ferns</text>
<rect x="274.5" y="335.57" width="4.5" height="4.6" fill="url(#f1)" stroke="#56702a" stroke-width="0.6"/>
<text x="280.9" y="340.77" font-size="7.5" textLength="43.5" lengthAdjust="spacingAndGlyphs" fill="#000" stroke="#000" stroke-width="0.12" font-family="Liberation Sans, sans-serif">Gymnosperms</text>
<rect x="274.5" y="350.04" width="4.5" height="4.6" fill="url(#f2)" stroke="#6c8c3c" stroke-width="0.6"/>
<text x="280.9" y="355.24" font-size="7.5" textLength="50" lengthAdjust="spacingAndGlyphs" fill="#000" stroke="#000" stroke-width="0.12" font-family="Liberation Sans, sans-serif">Flowering plants</text>
<rect x="274.5" y="364.51" width="4.5" height="4.6" fill="url(#f3)" stroke="#22606e" stroke-width="0.6"/>
<text x="280.9" y="369.71" font-size="7.5" textLength="57.5" lengthAdjust="spacingAndGlyphs" fill="#000" stroke="#000" stroke-width="0.12" font-family="Liberation Sans, sans-serif">Green &amp; Red Algae</text>
<rect x="274.5" y="378.98" width="4.5" height="4.6" fill="url(#f4)" stroke="#4a76b4" stroke-width="0.6"/>
<text x="280.9" y="384.18" font-size="7.5" textLength="27" lengthAdjust="spacingAndGlyphs" fill="#000" stroke="#000" stroke-width="0.12" font-family="Liberation Sans, sans-serif">Mollusks</text>
<rect x="274.5" y="393.45" width="4.5" height="4.6" fill="url(#f5)" stroke="#2c58b8" stroke-width="0.6"/>
<text x="280.9" y="398.65" font-size="7.5" textLength="37" lengthAdjust="spacingAndGlyphs" fill="#000" stroke="#000" stroke-width="0.12" font-family="Liberation Sans, sans-serif">Crustaceans</text>
<rect x="274.5" y="407.92" width="4.5" height="4.6" fill="url(#f6)" stroke="#7c6c94" stroke-width="0.6"/>
<text x="280.9" y="413.12" font-size="7.5" textLength="21" lengthAdjust="spacingAndGlyphs" fill="#000" stroke="#000" stroke-width="0.12" font-family="Liberation Sans, sans-serif">Insects</text>
<rect x="274.5" y="422.39" width="4.5" height="4.6" fill="url(#f7)" stroke="#808080" stroke-width="0.6"/>
<text x="280.9" y="427.59" font-size="7.5" textLength="63" lengthAdjust="spacingAndGlyphs" fill="#000" stroke="#000" stroke-width="0.12" font-family="Liberation Sans, sans-serif">Others Invertebrates</text>
<rect x="274.5" y="436.86" width="4.5" height="4.6" fill="url(#f8)" stroke="#1c2cc8" stroke-width="0.6"/>
<text x="280.9" y="442.06" font-size="7.5" textLength="18.5" lengthAdjust="spacingAndGlyphs" fill="#000" stroke="#000" stroke-width="0.12" font-family="Liberation Sans, sans-serif">Fishes</text>
<rect x="274.5" y="451.33" width="4.5" height="4.6" fill="url(#f9)" stroke="#5c7c9c" stroke-width="0.6"/>
<text x="280.9" y="456.53" font-size="7.5" textLength="36" lengthAdjust="spacingAndGlyphs" fill="#000" stroke="#000" stroke-width="0.12" font-family="Liberation Sans, sans-serif">Amphibians</text>
<rect x="274.5" y="465.80" width="4.5" height="4.6" fill="url(#f10)" stroke="#b0601c" stroke-width="0.6"/>
<text x="280.9" y="471.00" font-size="7.5" textLength="24" lengthAdjust="spacingAndGlyphs" fill="#000" stroke="#000" stroke-width="0.12" font-family="Liberation Sans, sans-serif">Reptiles</text>
<rect x="274.5" y="480.27" width="4.5" height="4.6" fill="url(#f11)" stroke="#26466e" stroke-width="0.6"/>
<text x="280.9" y="485.47" font-size="7.5" textLength="15.5" lengthAdjust="spacingAndGlyphs" fill="#000" stroke="#000" stroke-width="0.12" font-family="Liberation Sans, sans-serif">Birds</text>
<rect x="274.5" y="494.74" width="4.5" height="4.6" fill="url(#f12)" stroke="#c00808" stroke-width="0.6"/>
<text x="280.9" y="499.94" font-size="7.5" textLength="30" lengthAdjust="spacingAndGlyphs" fill="#000" stroke="#000" stroke-width="0.12" font-family="Liberation Sans, sans-serif">Mammals</text></svg>
</body></html>
